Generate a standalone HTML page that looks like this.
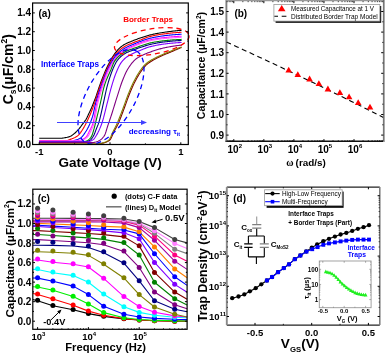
<!DOCTYPE html>
<html><head><meta charset="utf-8"><style>
html,body{margin:0;padding:0;background:#fff;}
svg{display:block;filter:blur(0.3px);}
text{font-family:"Liberation Sans", sans-serif;}
</style></head><body>
<svg width="385" height="355" viewBox="0 0 385 355" font-family='"Liberation Sans", sans-serif'>
<rect width="385" height="355" fill="#fff"/>
<path d="M39.2,138.3 L40,138.3 L40.79,138.3 L41.59,138.3 L42.38,138.3 L43.18,138.3 L43.97,138.3 L44.77,138.3 L45.56,138.3 L46.36,138.3 L47.16,138.3 L47.95,138.3 L48.75,138.3 L49.54,138.3 L50.34,138.3 L51.13,138.3 L51.93,138.3 L52.72,138.3 L53.52,138.3 L54.32,138.3 L55.11,138.3 L55.91,138.3 L56.7,138.3 L57.5,138.3 L58.29,138.3 L59.09,138.3 L59.88,138.3 L60.68,138.28 L61.47,138.23 L62.27,138.15 L63.07,138.05 L63.86,137.92 L64.66,137.78 L65.45,137.64 L66.25,137.49 L67.04,137.32 L67.84,137.12 L68.63,136.88 L69.43,136.61 L70.23,136.3 L71.02,135.93 L71.82,135.46 L72.61,134.9 L73.41,134.29 L74.2,133.65 L75,132.99 L75.79,132.26 L76.59,131.47 L77.39,130.64 L78.18,129.76 L78.98,128.86 L79.77,127.87 L80.57,126.83 L81.36,125.75 L82.16,124.67 L82.95,123.62 L83.75,122.6 L84.55,121.56 L85.34,120.43 L86.14,119.17 L86.93,117.7 L87.73,116.07 L88.52,114.35 L89.32,112.64 L90.11,110.92 L90.91,109.17 L91.71,107.37 L92.5,105.5 L93.3,103.56 L94.09,101.54 L94.89,99.46 L95.68,97.32 L96.48,95.12 L97.27,92.8 L98.07,90.39 L98.86,87.99 L99.66,85.67 L100.46,83.47 L101.25,81.31 L102.05,79.19 L102.84,77.11 L103.64,75.09 L104.43,73.13 L105.23,71.25 L106.02,69.46 L106.82,67.73 L107.62,66.07 L108.41,64.46 L109.21,62.92 L110,61.43 L110.8,60 L111.59,58.61 L112.39,57.26 L113.18,55.97 L113.98,54.75 L114.78,53.62 L115.57,52.57 L116.37,51.56 L117.16,50.6 L117.96,49.7 L118.75,48.85 L119.55,48.08 L120.34,47.39 L121.14,46.75 L121.94,46.15 L122.73,45.59 L123.53,45.07 L124.32,44.58 L125.12,44.14 L125.91,43.72 L126.71,43.33 L127.5,42.97 L128.3,42.62 L129.09,42.28 L129.89,41.96 L130.69,41.64 L131.48,41.32 L132.28,41 L133.07,40.68 L133.87,40.36 L134.66,40.05 L135.46,39.74 L136.25,39.44 L137.05,39.14 L137.85,38.85 L138.64,38.57 L139.44,38.29 L140.23,38.01 L141.03,37.74 L141.82,37.47 L142.62,37.2 L143.41,36.93 L144.21,36.67 L145.01,36.41 L145.8,36.16 L146.6,35.91 L147.39,35.68 L148.19,35.46 L148.98,35.24 L149.78,35.04 L150.57,34.85 L151.37,34.67 L152.17,34.49 L152.96,34.32 L153.76,34.15 L154.55,33.98 L155.35,33.82 L156.14,33.66 L156.94,33.51 L157.73,33.36 L158.53,33.21 L159.33,33.07 L160.12,32.93 L160.92,32.8 L161.71,32.67 L162.51,32.54 L163.3,32.42 L164.1,32.3 L164.89,32.19 L165.69,32.07 L166.48,31.96 L167.28,31.85 L168.08,31.74 L168.87,31.64 L169.67,31.54 L170.46,31.43 L171.26,31.33 L172.05,31.24 L172.85,31.14 L173.64,31.05 L174.44,30.96 L175.24,30.87 L176.03,30.79 L176.83,30.71 L177.62,30.63 L178.42,30.55 L179.21,30.48 L180.01,30.42 L180.8,30.35 L181.6,30.29" fill="none" stroke="#000000" stroke-width="1.1"/>
<path d="M39.2,140.55 L40,140.55 L40.79,140.55 L41.59,140.55 L42.38,140.55 L43.18,140.55 L43.97,140.55 L44.77,140.55 L45.56,140.55 L46.36,140.55 L47.16,140.55 L47.95,140.55 L48.75,140.55 L49.54,140.55 L50.34,140.55 L51.13,140.55 L51.93,140.55 L52.72,140.55 L53.52,140.55 L54.32,140.55 L55.11,140.55 L55.91,140.55 L56.7,140.55 L57.5,140.55 L58.29,140.55 L59.09,140.55 L59.88,140.55 L60.68,140.55 L61.47,140.55 L62.27,140.55 L63.07,140.55 L63.86,140.55 L64.66,140.55 L65.45,140.55 L66.25,140.55 L67.04,140.44 L67.84,140.24 L68.63,139.97 L69.43,139.68 L70.23,139.39 L71.02,139.12 L71.82,138.84 L72.61,138.54 L73.41,138.22 L74.2,137.87 L75,137.48 L75.79,137.06 L76.59,136.58 L77.39,136.02 L78.18,135.38 L78.98,134.64 L79.77,133.7 L80.57,132.6 L81.36,131.43 L82.16,130.24 L82.95,128.98 L83.75,127.64 L84.55,126.25 L85.34,124.79 L86.14,123.25 L86.93,121.65 L87.73,119.98 L88.52,118.27 L89.32,116.5 L90.11,114.67 L90.91,112.78 L91.71,110.82 L92.5,108.79 L93.3,106.67 L94.09,104.48 L94.89,102.17 L95.68,99.74 L96.48,97.25 L97.27,94.72 L98.07,92.21 L98.86,89.74 L99.66,87.37 L100.46,85.12 L101.25,82.98 L102.05,80.89 L102.84,78.85 L103.64,76.86 L104.43,74.93 L105.23,73.06 L106.02,71.24 L106.82,69.48 L107.62,67.76 L108.41,66.09 L109.21,64.47 L110,62.91 L110.8,61.42 L111.59,60.01 L112.39,58.63 L113.18,57.3 L113.98,56.07 L114.78,55 L115.57,54.08 L116.37,53.22 L117.16,52.4 L117.96,51.61 L118.75,50.87 L119.55,50.16 L120.34,49.49 L121.14,48.86 L121.94,48.26 L122.73,47.69 L123.53,47.16 L124.32,46.67 L125.12,46.2 L125.91,45.77 L126.71,45.38 L127.5,45.01 L128.3,44.66 L129.09,44.33 L129.89,44.01 L130.69,43.7 L131.48,43.39 L132.28,43.07 L133.07,42.75 L133.87,42.44 L134.66,42.13 L135.46,41.83 L136.25,41.54 L137.05,41.24 L137.85,40.95 L138.64,40.66 L139.44,40.37 L140.23,40.07 L141.03,39.77 L141.82,39.45 L142.62,39.13 L143.41,38.81 L144.21,38.49 L145.01,38.17 L145.8,37.86 L146.6,37.56 L147.39,37.28 L148.19,37.01 L148.98,36.77 L149.78,36.55 L150.57,36.35 L151.37,36.16 L152.17,35.98 L152.96,35.8 L153.76,35.63 L154.55,35.46 L155.35,35.3 L156.14,35.15 L156.94,35 L157.73,34.85 L158.53,34.71 L159.33,34.58 L160.12,34.45 L160.92,34.33 L161.71,34.21 L162.51,34.09 L163.3,33.98 L164.1,33.88 L164.89,33.78 L165.69,33.68 L166.48,33.59 L167.28,33.5 L168.08,33.4 L168.87,33.31 L169.67,33.23 L170.46,33.14 L171.26,33.06 L172.05,32.97 L172.85,32.9 L173.64,32.82 L174.44,32.75 L175.24,32.68 L176.03,32.61 L176.83,32.55 L177.62,32.49 L178.42,32.44 L179.21,32.39 L180.01,32.34 L180.8,32.3 L181.6,32.26" fill="none" stroke="#ff0000" stroke-width="1.1"/>
<path d="M39.2,141.68 L40,141.68 L40.79,141.68 L41.59,141.68 L42.38,141.68 L43.18,141.68 L43.97,141.68 L44.77,141.68 L45.56,141.68 L46.36,141.68 L47.16,141.68 L47.95,141.68 L48.75,141.68 L49.54,141.68 L50.34,141.68 L51.13,141.68 L51.93,141.68 L52.72,141.68 L53.52,141.68 L54.32,141.68 L55.11,141.68 L55.91,141.68 L56.7,141.68 L57.5,141.68 L58.29,141.68 L59.09,141.68 L59.88,141.68 L60.68,141.68 L61.47,141.68 L62.27,141.68 L63.07,141.68 L63.86,141.68 L64.66,141.68 L65.45,141.68 L66.25,141.68 L67.04,141.68 L67.84,141.68 L68.63,141.68 L69.43,141.68 L70.23,141.68 L71.02,141.59 L71.82,141.42 L72.61,141.19 L73.41,140.91 L74.2,140.6 L75,140.3 L75.79,140.02 L76.59,139.74 L77.39,139.46 L78.18,139.16 L78.98,138.82 L79.77,138.43 L80.57,137.97 L81.36,137.4 L82.16,136.6 L82.95,135.64 L83.75,134.57 L84.55,133.44 L85.34,132.3 L86.14,131.04 L86.93,129.67 L87.73,128.2 L88.52,126.64 L89.32,124.96 L90.11,123.15 L90.91,121.19 L91.71,119.06 L92.5,116.65 L93.3,113.86 L94.09,110.21 L94.89,106.34 L95.68,103.18 L96.48,100.32 L97.27,97.62 L98.07,95.07 L98.86,92.63 L99.66,90.28 L100.46,87.98 L101.25,85.71 L102.05,83.44 L102.84,81.2 L103.64,79 L104.43,76.87 L105.23,74.81 L106.02,72.85 L106.82,71.01 L107.62,69.29 L108.41,67.69 L109.21,66.17 L110,64.73 L110.8,63.34 L111.59,61.99 L112.39,60.67 L113.18,59.35 L113.98,58.04 L114.78,56.89 L115.57,55.96 L116.37,55.09 L117.16,54.27 L117.96,53.48 L118.75,52.75 L119.55,52.04 L120.34,51.38 L121.14,50.75 L121.94,50.16 L122.73,49.6 L123.53,49.06 L124.32,48.56 L125.12,48.08 L125.91,47.63 L126.71,47.22 L127.5,46.83 L128.3,46.47 L129.09,46.12 L129.89,45.78 L130.69,45.44 L131.48,45.11 L132.28,44.77 L133.07,44.42 L133.87,44.08 L134.66,43.73 L135.46,43.39 L136.25,43.05 L137.05,42.72 L137.85,42.4 L138.64,42.09 L139.44,41.78 L140.23,41.48 L141.03,41.19 L141.82,40.9 L142.62,40.6 L143.41,40.31 L144.21,40.03 L145.01,39.75 L145.8,39.49 L146.6,39.23 L147.39,38.98 L148.19,38.75 L148.98,38.53 L149.78,38.33 L150.57,38.15 L151.37,37.97 L152.17,37.79 L152.96,37.62 L153.76,37.46 L154.55,37.29 L155.35,37.14 L156.14,36.99 L156.94,36.84 L157.73,36.7 L158.53,36.56 L159.33,36.43 L160.12,36.31 L160.92,36.19 L161.71,36.07 L162.51,35.96 L163.3,35.86 L164.1,35.76 L164.89,35.66 L165.69,35.57 L166.48,35.48 L167.28,35.39 L168.08,35.3 L168.87,35.22 L169.67,35.13 L170.46,35.05 L171.26,34.97 L172.05,34.9 L172.85,34.82 L173.64,34.75 L174.44,34.68 L175.24,34.62 L176.03,34.56 L176.83,34.5 L177.62,34.44 L178.42,34.39 L179.21,34.35 L180.01,34.31 L180.8,34.27 L181.6,34.24" fill="none" stroke="#0000ff" stroke-width="1.1"/>
<path d="M39.2,140.74 L40,140.74 L40.79,140.74 L41.59,140.74 L42.38,140.74 L43.18,140.74 L43.97,140.74 L44.77,140.74 L45.56,140.74 L46.36,140.74 L47.16,140.74 L47.95,140.74 L48.75,140.74 L49.54,140.74 L50.34,140.74 L51.13,140.74 L51.93,140.74 L52.72,140.74 L53.52,140.74 L54.32,140.74 L55.11,140.74 L55.91,140.74 L56.7,140.74 L57.5,140.74 L58.29,140.74 L59.09,140.74 L59.88,140.74 L60.68,140.74 L61.47,140.74 L62.27,140.74 L63.07,140.74 L63.86,140.74 L64.66,140.74 L65.45,140.74 L66.25,140.74 L67.04,140.74 L67.84,140.74 L68.63,140.74 L69.43,140.74 L70.23,140.74 L71.02,140.74 L71.82,140.74 L72.61,140.74 L73.41,140.74 L74.2,140.74 L75,140.74 L75.79,140.72 L76.59,140.68 L77.39,140.61 L78.18,140.52 L78.98,140.4 L79.77,140.27 L80.57,140.13 L81.36,139.94 L82.16,139.65 L82.95,139.26 L83.75,138.77 L84.55,138.21 L85.34,137.56 L86.14,136.85 L86.93,135.83 L87.73,134.49 L88.52,132.95 L89.32,131.34 L90.11,129.78 L90.91,128.23 L91.71,126.55 L92.5,124.58 L93.3,122.17 L94.09,118.44 L94.89,113.62 L95.68,108.71 L96.48,104.69 L97.27,101.44 L98.07,98.44 L98.86,95.64 L99.66,93.01 L100.46,90.51 L101.25,88.1 L102.05,85.74 L102.84,83.41 L103.64,81.13 L104.43,78.9 L105.23,76.75 L106.02,74.71 L106.82,72.78 L107.62,70.98 L108.41,69.33 L109.21,67.81 L110,66.38 L110.8,65.04 L111.59,63.75 L112.39,62.5 L113.18,61.26 L113.98,60.03 L114.78,58.78 L115.57,57.82 L116.37,56.93 L117.16,56.08 L117.96,55.27 L118.75,54.51 L119.55,53.78 L120.34,53.1 L121.14,52.44 L121.94,51.83 L122.73,51.24 L123.53,50.69 L124.32,50.17 L125.12,49.68 L125.91,49.22 L126.71,48.79 L127.5,48.39 L128.3,48.02 L129.09,47.66 L129.89,47.31 L130.69,46.97 L131.48,46.63 L132.28,46.28 L133.07,45.92 L133.87,45.56 L134.66,45.2 L135.46,44.84 L136.25,44.49 L137.05,44.15 L137.85,43.82 L138.64,43.5 L139.44,43.19 L140.23,42.9 L141.03,42.61 L141.82,42.33 L142.62,42.04 L143.41,41.77 L144.21,41.5 L145.01,41.24 L145.8,40.99 L146.6,40.75 L147.39,40.52 L148.19,40.31 L148.98,40.11 L149.78,39.93 L150.57,39.76 L151.37,39.59 L152.17,39.44 L152.96,39.28 L153.76,39.14 L154.55,38.99 L155.35,38.85 L156.14,38.72 L156.94,38.59 L157.73,38.47 L158.53,38.35 L159.33,38.23 L160.12,38.12 L160.92,38.01 L161.71,37.91 L162.51,37.81 L163.3,37.72 L164.1,37.63 L164.89,37.54 L165.69,37.46 L166.48,37.37 L167.28,37.29 L168.08,37.21 L168.87,37.13 L169.67,37.06 L170.46,36.98 L171.26,36.91 L172.05,36.84 L172.85,36.77 L173.64,36.7 L174.44,36.64 L175.24,36.58 L176.03,36.52 L176.83,36.47 L177.62,36.41 L178.42,36.37 L179.21,36.32 L180.01,36.28 L180.8,36.24 L181.6,36.21" fill="none" stroke="#ff00ff" stroke-width="1.1"/>
<path d="M39.2,141.12 L40,141.12 L40.79,141.12 L41.59,141.12 L42.38,141.12 L43.18,141.12 L43.97,141.12 L44.77,141.12 L45.56,141.12 L46.36,141.12 L47.16,141.12 L47.95,141.12 L48.75,141.12 L49.54,141.12 L50.34,141.12 L51.13,141.12 L51.93,141.12 L52.72,141.12 L53.52,141.12 L54.32,141.12 L55.11,141.12 L55.91,141.12 L56.7,141.12 L57.5,141.12 L58.29,141.12 L59.09,141.12 L59.88,141.12 L60.68,141.12 L61.47,141.12 L62.27,141.12 L63.07,141.12 L63.86,141.12 L64.66,141.12 L65.45,141.12 L66.25,141.12 L67.04,141.12 L67.84,141.12 L68.63,141.12 L69.43,141.12 L70.23,141.12 L71.02,141.12 L71.82,141.12 L72.61,141.12 L73.41,141.12 L74.2,141.12 L75,141.12 L75.79,141.12 L76.59,141.12 L77.39,141.11 L78.18,141.05 L78.98,140.94 L79.77,140.79 L80.57,140.61 L81.36,140.4 L82.16,140.18 L82.95,139.94 L83.75,139.61 L84.55,139.21 L85.34,138.72 L86.14,138.15 L86.93,137.5 L87.73,136.75 L88.52,135.65 L89.32,134.23 L90.11,132.62 L90.91,130.96 L91.71,129.35 L92.5,127.68 L93.3,125.8 L94.09,123.53 L94.89,120.38 L95.68,115.59 L96.48,110.25 L97.27,105.61 L98.07,102.15 L98.86,99.01 L99.66,96.11 L100.46,93.41 L101.25,90.87 L102.05,88.43 L102.84,86.06 L103.64,83.71 L104.43,81.42 L105.23,79.2 L106.02,77.06 L106.82,75.01 L107.62,73.07 L108.41,71.23 L109.21,69.52 L110,67.87 L110.8,66.27 L111.59,64.74 L112.39,63.31 L113.18,61.99 L113.98,60.81 L114.78,59.78 L115.57,58.83 L116.37,57.93 L117.16,57.08 L117.96,56.26 L118.75,55.49 L119.55,54.76 L120.34,54.06 L121.14,53.41 L121.94,52.78 L122.73,52.2 L123.53,51.64 L124.32,51.11 L125.12,50.62 L125.91,50.16 L126.71,49.73 L127.5,49.33 L128.3,48.96 L129.09,48.6 L129.89,48.25 L130.69,47.91 L131.48,47.56 L132.28,47.22 L133.07,46.86 L133.87,46.5 L134.66,46.14 L135.46,45.79 L136.25,45.44 L137.05,45.1 L137.85,44.76 L138.64,44.44 L139.44,44.13 L140.23,43.83 L141.03,43.54 L141.82,43.25 L142.62,42.96 L143.41,42.67 L144.21,42.39 L145.01,42.12 L145.8,41.86 L146.6,41.61 L147.39,41.38 L148.19,41.16 L148.98,40.95 L149.78,40.77 L150.57,40.61 L151.37,40.44 L152.17,40.29 L152.96,40.14 L153.76,39.99 L154.55,39.85 L155.35,39.72 L156.14,39.59 L156.94,39.46 L157.73,39.34 L158.53,39.23 L159.33,39.12 L160.12,39.01 L160.92,38.91 L161.71,38.82 L162.51,38.73 L163.3,38.64 L164.1,38.56 L164.89,38.48 L165.69,38.4 L166.48,38.33 L167.28,38.26 L168.08,38.19 L168.87,38.12 L169.67,38.05 L170.46,37.98 L171.26,37.92 L172.05,37.85 L172.85,37.79 L173.64,37.74 L174.44,37.68 L175.24,37.63 L176.03,37.58 L176.83,37.53 L177.62,37.49 L178.42,37.45 L179.21,37.42 L180.01,37.39 L180.8,37.36 L181.6,37.34" fill="none" stroke="#ff66ff" stroke-width="1.1"/>
<path d="M39.2,142.06 L40,142.06 L40.79,142.06 L41.59,142.06 L42.38,142.06 L43.18,142.06 L43.97,142.06 L44.77,142.06 L45.56,142.06 L46.36,142.06 L47.16,142.06 L47.95,142.06 L48.75,142.06 L49.54,142.06 L50.34,142.06 L51.13,142.06 L51.93,142.06 L52.72,142.06 L53.52,142.06 L54.32,142.06 L55.11,142.06 L55.91,142.06 L56.7,142.06 L57.5,142.06 L58.29,142.06 L59.09,142.06 L59.88,142.06 L60.68,142.06 L61.47,142.06 L62.27,142.06 L63.07,142.06 L63.86,142.06 L64.66,142.06 L65.45,142.06 L66.25,142.06 L67.04,142.06 L67.84,142.06 L68.63,142.06 L69.43,142.06 L70.23,142.06 L71.02,142.06 L71.82,142.06 L72.61,142.06 L73.41,142.06 L74.2,142.06 L75,142.06 L75.79,142.06 L76.59,142.06 L77.39,142.06 L78.18,142.06 L78.98,142.06 L79.77,142.06 L80.57,142.05 L81.36,142 L82.16,141.93 L82.95,141.82 L83.75,141.69 L84.55,141.54 L85.34,141.37 L86.14,141.17 L86.93,140.88 L87.73,140.45 L88.52,139.87 L89.32,139.16 L90.11,138.33 L90.91,137.36 L91.71,136.08 L92.5,133.96 L93.3,131.4 L94.09,128.68 L94.89,125.51 L95.68,122.27 L96.48,119.08 L97.27,115.86 L98.07,112.6 L98.86,109.32 L99.66,106.02 L100.46,102.63 L101.25,99.01 L102.05,95.33 L102.84,91.74 L103.64,88.42 L104.43,85.53 L105.23,83.11 L106.02,80.92 L106.82,78.91 L107.62,77.04 L108.41,75.26 L109.21,73.52 L110,71.77 L110.8,69.96 L111.59,68.03 L112.39,66.01 L113.18,64.05 L113.98,62.29 L114.78,60.88 L115.57,59.82 L116.37,58.85 L117.16,57.96 L117.96,57.13 L118.75,56.36 L119.55,55.64 L120.34,54.98 L121.14,54.37 L121.94,53.8 L122.73,53.26 L123.53,52.76 L124.32,52.29 L125.12,51.85 L125.91,51.43 L126.71,51.05 L127.5,50.7 L128.3,50.38 L129.09,50.07 L129.89,49.77 L130.69,49.48 L131.48,49.19 L132.28,48.89 L133.07,48.59 L133.87,48.3 L134.66,48.01 L135.46,47.73 L136.25,47.45 L137.05,47.17 L137.85,46.9 L138.64,46.63 L139.44,46.36 L140.23,46.1 L141.03,45.82 L141.82,45.55 L142.62,45.26 L143.41,44.98 L144.21,44.7 L145.01,44.43 L145.8,44.16 L146.6,43.9 L147.39,43.66 L148.19,43.43 L148.98,43.22 L149.78,43.03 L150.57,42.86 L151.37,42.69 L152.17,42.53 L152.96,42.38 L153.76,42.23 L154.55,42.08 L155.35,41.94 L156.14,41.81 L156.94,41.68 L157.73,41.55 L158.53,41.43 L159.33,41.32 L160.12,41.21 L160.92,41.1 L161.71,41 L162.51,40.9 L163.3,40.81 L164.1,40.72 L164.89,40.64 L165.69,40.56 L166.48,40.48 L167.28,40.4 L168.08,40.33 L168.87,40.25 L169.67,40.18 L170.46,40.11 L171.26,40.04 L172.05,39.97 L172.85,39.91 L173.64,39.85 L174.44,39.79 L175.24,39.73 L176.03,39.68 L176.83,39.63 L177.62,39.58 L178.42,39.54 L179.21,39.5 L180.01,39.46 L180.8,39.43 L181.6,39.41" fill="none" stroke="#008000" stroke-width="1.1"/>
<path d="M39.2,142.06 L40,142.06 L40.79,142.06 L41.59,142.06 L42.38,142.06 L43.18,142.06 L43.97,142.06 L44.77,142.06 L45.56,142.06 L46.36,142.06 L47.16,142.06 L47.95,142.06 L48.75,142.06 L49.54,142.06 L50.34,142.06 L51.13,142.06 L51.93,142.06 L52.72,142.06 L53.52,142.06 L54.32,142.06 L55.11,142.06 L55.91,142.06 L56.7,142.06 L57.5,142.06 L58.29,142.06 L59.09,142.06 L59.88,142.06 L60.68,142.06 L61.47,142.06 L62.27,142.06 L63.07,142.06 L63.86,142.06 L64.66,142.06 L65.45,142.06 L66.25,142.06 L67.04,142.06 L67.84,142.06 L68.63,142.06 L69.43,142.06 L70.23,142.06 L71.02,142.06 L71.82,142.06 L72.61,142.06 L73.41,142.06 L74.2,142.06 L75,142.06 L75.79,142.06 L76.59,142.06 L77.39,142.06 L78.18,142.06 L78.98,142.06 L79.77,142.06 L80.57,142.06 L81.36,142.06 L82.16,142.06 L82.95,142.06 L83.75,142.06 L84.55,142.04 L85.34,141.95 L86.14,141.79 L86.93,141.57 L87.73,141.29 L88.52,140.97 L89.32,140.61 L90.11,140.21 L90.91,139.57 L91.71,138.63 L92.5,137.49 L93.3,136.21 L94.09,134.69 L94.89,132.77 L95.68,130.66 L96.48,128.57 L97.27,126.65 L98.07,124.68 L98.86,122.39 L99.66,119.6 L100.46,116.37 L101.25,112.87 L102.05,109.26 L102.84,105.7 L103.64,102.18 L104.43,98.45 L105.23,94.67 L106.02,91 L106.82,87.59 L107.62,84.59 L108.41,81.86 L109.21,79.27 L110,76.82 L110.8,74.5 L111.59,72.32 L112.39,70.27 L113.18,68.36 L113.98,66.58 L114.78,64.87 L115.57,63.27 L116.37,61.82 L117.16,60.58 L117.96,59.56 L118.75,58.64 L119.55,57.79 L120.34,57.01 L121.14,56.28 L121.94,55.61 L122.73,54.99 L123.53,54.43 L124.32,53.91 L125.12,53.44 L125.91,53.01 L126.71,52.62 L127.5,52.26 L128.3,51.92 L129.09,51.6 L129.89,51.3 L130.69,51 L131.48,50.7 L132.28,50.4 L133.07,50.09 L133.87,49.78 L134.66,49.48 L135.46,49.19 L136.25,48.89 L137.05,48.61 L137.85,48.33 L138.64,48.05 L139.44,47.78 L140.23,47.51 L141.03,47.24 L141.82,46.97 L142.62,46.7 L143.41,46.43 L144.21,46.16 L145.01,45.9 L145.8,45.64 L146.6,45.4 L147.39,45.16 L148.19,44.94 L148.98,44.73 L149.78,44.54 L150.57,44.35 L151.37,44.18 L152.17,44 L152.96,43.83 L153.76,43.67 L154.55,43.51 L155.35,43.35 L156.14,43.2 L156.94,43.05 L157.73,42.9 L158.53,42.77 L159.33,42.63 L160.12,42.51 L160.92,42.38 L161.71,42.27 L162.51,42.16 L163.3,42.05 L164.1,41.96 L164.89,41.86 L165.69,41.78 L166.48,41.69 L167.28,41.61 L168.08,41.52 L168.87,41.44 L169.67,41.36 L170.46,41.28 L171.26,41.21 L172.05,41.13 L172.85,41.06 L173.64,41 L174.44,40.93 L175.24,40.87 L176.03,40.82 L176.83,40.76 L177.62,40.71 L178.42,40.67 L179.21,40.63 L180.01,40.59 L180.8,40.56 L181.6,40.54" fill="none" stroke="#000080" stroke-width="1.1"/>
<path d="M39.2,141.68 L40,141.68 L40.79,141.68 L41.59,141.68 L42.38,141.68 L43.18,141.68 L43.97,141.68 L44.77,141.68 L45.56,141.68 L46.36,141.68 L47.16,141.68 L47.95,141.68 L48.75,141.68 L49.54,141.68 L50.34,141.68 L51.13,141.68 L51.93,141.68 L52.72,141.68 L53.52,141.68 L54.32,141.68 L55.11,141.68 L55.91,141.68 L56.7,141.68 L57.5,141.68 L58.29,141.68 L59.09,141.68 L59.88,141.68 L60.68,141.68 L61.47,141.68 L62.27,141.68 L63.07,141.68 L63.86,141.68 L64.66,141.68 L65.45,141.68 L66.25,141.68 L67.04,141.68 L67.84,141.68 L68.63,141.68 L69.43,141.68 L70.23,141.68 L71.02,141.68 L71.82,141.68 L72.61,141.68 L73.41,141.68 L74.2,141.68 L75,141.68 L75.79,141.68 L76.59,141.68 L77.39,141.68 L78.18,141.68 L78.98,141.68 L79.77,141.68 L80.57,141.68 L81.36,141.68 L82.16,141.68 L82.95,141.68 L83.75,141.68 L84.55,141.68 L85.34,141.68 L86.14,141.68 L86.93,141.68 L87.73,141.68 L88.52,141.65 L89.32,141.51 L90.11,141.27 L90.91,140.94 L91.71,140.54 L92.5,140.1 L93.3,139.59 L94.09,138.79 L94.89,137.73 L95.68,136.53 L96.48,135.27 L97.27,133.89 L98.07,132.36 L98.86,130.7 L99.66,128.9 L100.46,126.98 L101.25,124.93 L102.05,122.75 L102.84,120.28 L103.64,117.42 L104.43,114.29 L105.23,111.04 L106.02,107.81 L106.82,104.73 L107.62,101.59 L108.41,98.41 L109.21,95.23 L110,92.13 L110.8,89.16 L111.59,86.37 L112.39,83.71 L113.18,81.12 L113.98,78.64 L114.78,76.3 L115.57,74.14 L116.37,72.17 L117.16,70.29 L117.96,68.49 L118.75,66.8 L119.55,65.25 L120.34,63.86 L121.14,62.67 L121.94,61.62 L122.73,60.66 L123.53,59.78 L124.32,58.99 L125.12,58.27 L125.91,57.62 L126.71,57.02 L127.5,56.48 L128.3,55.97 L129.09,55.49 L129.89,55.04 L130.69,54.62 L131.48,54.21 L132.28,53.81 L133.07,53.42 L133.87,53.04 L134.66,52.68 L135.46,52.34 L136.25,52 L137.05,51.68 L137.85,51.36 L138.64,51.04 L139.44,50.72 L140.23,50.41 L141.03,50.08 L141.82,49.75 L142.62,49.42 L143.41,49.09 L144.21,48.76 L145.01,48.44 L145.8,48.12 L146.6,47.82 L147.39,47.54 L148.19,47.27 L148.98,47.02 L149.78,46.8 L150.57,46.59 L151.37,46.4 L152.17,46.21 L152.96,46.02 L153.76,45.84 L154.55,45.67 L155.35,45.5 L156.14,45.33 L156.94,45.18 L157.73,45.03 L158.53,44.88 L159.33,44.74 L160.12,44.61 L160.92,44.48 L161.71,44.36 L162.51,44.24 L163.3,44.13 L164.1,44.03 L164.89,43.93 L165.69,43.84 L166.48,43.75 L167.28,43.66 L168.08,43.57 L168.87,43.48 L169.67,43.39 L170.46,43.31 L171.26,43.23 L172.05,43.15 L172.85,43.08 L173.64,43 L174.44,42.94 L175.24,42.87 L176.03,42.81 L176.83,42.75 L177.62,42.7 L178.42,42.65 L179.21,42.61 L180.01,42.57 L180.8,42.54 L181.6,42.51" fill="none" stroke="#8000ff" stroke-width="1.1"/>
<path d="M39.2,142.62 L40,142.62 L40.79,142.62 L41.59,142.62 L42.38,142.62 L43.18,142.62 L43.97,142.62 L44.77,142.62 L45.56,142.62 L46.36,142.62 L47.16,142.62 L47.95,142.62 L48.75,142.62 L49.54,142.62 L50.34,142.62 L51.13,142.62 L51.93,142.62 L52.72,142.62 L53.52,142.62 L54.32,142.62 L55.11,142.62 L55.91,142.62 L56.7,142.62 L57.5,142.62 L58.29,142.62 L59.09,142.62 L59.88,142.62 L60.68,142.62 L61.47,142.62 L62.27,142.62 L63.07,142.62 L63.86,142.62 L64.66,142.62 L65.45,142.62 L66.25,142.62 L67.04,142.62 L67.84,142.62 L68.63,142.62 L69.43,142.62 L70.23,142.62 L71.02,142.62 L71.82,142.62 L72.61,142.62 L73.41,142.62 L74.2,142.62 L75,142.62 L75.79,142.62 L76.59,142.62 L77.39,142.62 L78.18,142.62 L78.98,142.62 L79.77,142.62 L80.57,142.62 L81.36,142.62 L82.16,142.62 L82.95,142.62 L83.75,142.62 L84.55,142.62 L85.34,142.62 L86.14,142.62 L86.93,142.62 L87.73,142.62 L88.52,142.62 L89.32,142.62 L90.11,142.62 L90.91,142.62 L91.71,142.62 L92.5,142.61 L93.3,142.53 L94.09,142.4 L94.89,142.22 L95.68,142 L96.48,141.75 L97.27,141.47 L98.07,141.18 L98.86,140.84 L99.66,140.41 L100.46,139.89 L101.25,139.27 L102.05,138.55 L102.84,137.72 L103.64,136.77 L104.43,135.68 L105.23,133.89 L106.02,131.49 L106.82,128.83 L107.62,126.25 L108.41,123.92 L109.21,121.6 L110,119.26 L110.8,116.88 L111.59,114.46 L112.39,111.97 L113.18,109.42 L113.98,106.85 L114.78,104.27 L115.57,101.7 L116.37,99.17 L117.16,96.68 L117.96,94.16 L118.75,91.62 L119.55,89.1 L120.34,86.63 L121.14,84.27 L121.94,82.05 L122.73,80 L123.53,78.04 L124.32,76.13 L125.12,74.3 L125.91,72.57 L126.71,70.97 L127.5,69.5 L128.3,68.21 L129.09,67 L129.89,65.85 L130.69,64.75 L131.48,63.7 L132.28,62.71 L133.07,61.78 L133.87,60.92 L134.66,60.12 L135.46,59.4 L136.25,58.75 L137.05,58.17 L137.85,57.64 L138.64,57.15 L139.44,56.7 L140.23,56.27 L141.03,55.87 L141.82,55.49 L142.62,55.13 L143.41,54.77 L144.21,54.42 L145.01,54.07 L145.8,53.72 L146.6,53.39 L147.39,53.07 L148.19,52.76 L148.98,52.46 L149.78,52.17 L150.57,51.9 L151.37,51.63 L152.17,51.35 L152.96,51.08 L153.76,50.82 L154.55,50.56 L155.35,50.3 L156.14,50.04 L156.94,49.79 L157.73,49.55 L158.53,49.31 L159.33,49.08 L160.12,48.86 L160.92,48.64 L161.71,48.43 L162.51,48.24 L163.3,48.05 L164.1,47.87 L164.89,47.7 L165.69,47.54 L166.48,47.38 L167.28,47.23 L168.08,47.07 L168.87,46.92 L169.67,46.78 L170.46,46.63 L171.26,46.49 L172.05,46.36 L172.85,46.23 L173.64,46.1 L174.44,45.98 L175.24,45.86 L176.03,45.75 L176.83,45.64 L177.62,45.54 L178.42,45.45 L179.21,45.36 L180.01,45.28 L180.8,45.21 L181.6,45.14" fill="none" stroke="#800080" stroke-width="1.1"/>
<path d="M39.2,144.12 L40,144.12 L40.79,144.12 L41.59,144.12 L42.38,144.12 L43.18,144.12 L43.97,144.12 L44.77,144.12 L45.56,144.12 L46.36,144.12 L47.16,144.12 L47.95,144.12 L48.75,144.12 L49.54,144.12 L50.34,144.12 L51.13,144.12 L51.93,144.12 L52.72,144.12 L53.52,144.12 L54.32,144.12 L55.11,144.12 L55.91,144.12 L56.7,144.12 L57.5,144.12 L58.29,144.12 L59.09,144.12 L59.88,144.12 L60.68,144.12 L61.47,144.12 L62.27,144.12 L63.07,144.12 L63.86,144.12 L64.66,144.12 L65.45,144.12 L66.25,144.12 L67.04,144.12 L67.84,144.12 L68.63,144.12 L69.43,144.12 L70.23,144.12 L71.02,144.12 L71.82,144.12 L72.61,144.12 L73.41,144.12 L74.2,144.12 L75,144.12 L75.79,144.12 L76.59,144.12 L77.39,144.12 L78.18,144.12 L78.98,144.12 L79.77,144.12 L80.57,144.12 L81.36,144.12 L82.16,144.12 L82.95,144.12 L83.75,144.12 L84.55,144.12 L85.34,144.12 L86.14,144.12 L86.93,144.12 L87.73,144.12 L88.52,144.12 L89.32,144.12 L90.11,144.12 L90.91,144.12 L91.71,144.12 L92.5,144.12 L93.3,144.12 L94.09,144.12 L94.89,144.12 L95.68,144.12 L96.48,144.12 L97.27,144.12 L98.07,144.08 L98.86,143.98 L99.66,143.86 L100.46,143.7 L101.25,143.52 L102.05,143.33 L102.84,143.13 L103.64,142.93 L104.43,142.7 L105.23,142.45 L106.02,142.16 L106.82,141.83 L107.62,141.44 L108.41,140.99 L109.21,140.48 L110,139.79 L110.8,138.62 L111.59,137.07 L112.39,135.3 L113.18,133.45 L113.98,131.66 L114.78,130.07 L115.57,128.64 L116.37,127.23 L117.16,125.76 L117.96,124.17 L118.75,122.41 L119.55,120.51 L120.34,118.51 L121.14,116.45 L121.94,114.34 L122.73,112.22 L123.53,110.12 L124.32,107.99 L125.12,105.8 L125.91,103.56 L126.71,101.33 L127.5,99.12 L128.3,96.98 L129.09,94.94 L129.89,92.98 L130.69,91.06 L131.48,89.18 L132.28,87.35 L133.07,85.58 L133.87,83.88 L134.66,82.26 L135.46,80.71 L136.25,79.21 L137.05,77.77 L137.85,76.37 L138.64,75.04 L139.44,73.76 L140.23,72.55 L141.03,71.4 L141.82,70.28 L142.62,69.19 L143.41,68.16 L144.21,67.18 L145.01,66.27 L145.8,65.45 L146.6,64.71 L147.39,64.02 L148.19,63.38 L148.98,62.78 L149.78,62.21 L150.57,61.68 L151.37,61.17 L152.17,60.68 L152.96,60.21 L153.76,59.76 L154.55,59.32 L155.35,58.9 L156.14,58.49 L156.94,58.09 L157.73,57.69 L158.53,57.31 L159.33,56.93 L160.12,56.55 L160.92,56.18 L161.71,55.81 L162.51,55.45 L163.3,55.1 L164.1,54.76 L164.89,54.43 L165.69,54.1 L166.48,53.77 L167.28,53.45 L168.08,53.12 L168.87,52.8 L169.67,52.47 L170.46,52.14 L171.26,51.8 L172.05,51.46 L172.85,51.12 L173.64,50.79 L174.44,50.45 L175.24,50.11 L176.03,49.77 L176.83,49.43 L177.62,49.09 L178.42,48.76 L179.21,48.42 L180.01,48.08 L180.8,47.74 L181.6,47.4" fill="none" stroke="#800000" stroke-width="1.1"/>
<path d="M39.2,143.94 L40,143.94 L40.79,143.94 L41.59,143.94 L42.38,143.94 L43.18,143.94 L43.97,143.94 L44.77,143.94 L45.56,143.94 L46.36,143.94 L47.16,143.94 L47.95,143.94 L48.75,143.94 L49.54,143.94 L50.34,143.94 L51.13,143.94 L51.93,143.94 L52.72,143.94 L53.52,143.94 L54.32,143.94 L55.11,143.94 L55.91,143.94 L56.7,143.94 L57.5,143.94 L58.29,143.94 L59.09,143.94 L59.88,143.94 L60.68,143.94 L61.47,143.94 L62.27,143.94 L63.07,143.94 L63.86,143.94 L64.66,143.94 L65.45,143.94 L66.25,143.94 L67.04,143.94 L67.84,143.94 L68.63,143.94 L69.43,143.94 L70.23,143.94 L71.02,143.94 L71.82,143.94 L72.61,143.94 L73.41,143.94 L74.2,143.94 L75,143.94 L75.79,143.94 L76.59,143.94 L77.39,143.94 L78.18,143.94 L78.98,143.94 L79.77,143.94 L80.57,143.94 L81.36,143.94 L82.16,143.94 L82.95,143.94 L83.75,143.94 L84.55,143.94 L85.34,143.94 L86.14,143.94 L86.93,143.94 L87.73,143.94 L88.52,143.94 L89.32,143.94 L90.11,143.94 L90.91,143.94 L91.71,143.94 L92.5,143.94 L93.3,143.94 L94.09,143.94 L94.89,143.94 L95.68,143.94 L96.48,143.93 L97.27,143.88 L98.07,143.8 L98.86,143.69 L99.66,143.56 L100.46,143.41 L101.25,143.25 L102.05,143.08 L102.84,142.89 L103.64,142.67 L104.43,142.41 L105.23,142.11 L106.02,141.75 L106.82,141.34 L107.62,140.87 L108.41,140.33 L109.21,139.54 L110,138.27 L110.8,136.67 L111.59,134.87 L112.39,133.02 L113.18,131.25 L113.98,129.67 L114.78,128.16 L115.57,126.63 L116.37,125.05 L117.16,123.33 L117.96,121.5 L118.75,119.56 L119.55,117.55 L120.34,115.49 L121.14,113.4 L121.94,111.3 L122.73,109.21 L123.53,107.06 L124.32,104.85 L125.12,102.61 L125.91,100.38 L126.71,98.19 L127.5,96.07 L128.3,94.06 L129.09,92.11 L129.89,90.2 L130.69,88.33 L131.48,86.52 L132.28,84.77 L133.07,83.08 L133.87,81.48 L134.66,79.94 L135.46,78.44 L136.25,76.99 L137.05,75.6 L137.85,74.26 L138.64,72.99 L139.44,71.78 L140.23,70.62 L141.03,69.49 L141.82,68.4 L142.62,67.36 L143.41,66.39 L144.21,65.5 L145.01,64.69 L145.8,63.96 L146.6,63.28 L147.39,62.65 L148.19,62.06 L148.98,61.5 L149.78,60.98 L150.57,60.48 L151.37,60.01 L152.17,59.55 L152.96,59.11 L153.76,58.68 L154.55,58.27 L155.35,57.87 L156.14,57.48 L156.94,57.1 L157.73,56.73 L158.53,56.35 L159.33,55.98 L160.12,55.61 L160.92,55.25 L161.71,54.89 L162.51,54.54 L163.3,54.2 L164.1,53.86 L164.89,53.52 L165.69,53.19 L166.48,52.87 L167.28,52.54 L168.08,52.22 L168.87,51.9 L169.67,51.58 L170.46,51.25 L171.26,50.93 L172.05,50.61 L172.85,50.3 L173.64,49.98 L174.44,49.67 L175.24,49.35 L176.03,49.04 L176.83,48.74 L177.62,48.43 L178.42,48.12 L179.21,47.82 L180.01,47.52 L180.8,47.22 L181.6,46.93" fill="none" stroke="#808000" stroke-width="1.1"/>
<ellipse cx="151.8" cy="41.6" rx="37.8" ry="12.7" transform="rotate(-9.6 151.8 41.6)" fill="none" stroke="#ff0000" stroke-width="1.3" stroke-dasharray="5,4"/>
<ellipse cx="111" cy="96.8" rx="52.4" ry="24.1" transform="rotate(-61 111 96.8)" fill="none" stroke="#0000ff" stroke-width="1.3" stroke-dasharray="5,4"/>
<line x1="57" y1="122.5" x2="143" y2="122.5" stroke="#4040ff" stroke-width="1.1"/>
<path d="M147,122.5 L141,120 L141,125 Z" fill="#4040ff"/>
<text x="123.2" y="21.5" font-size="8" font-weight="bold" text-anchor="start" fill="#ff0000" >Border Traps</text>
<text x="40.9" y="66.9" font-size="8.2" font-weight="bold" text-anchor="start" fill="#0000ff" >Interface Traps</text>
<text x="128.7" y="134.3" font-size="8" font-weight="bold" text-anchor="start" fill="#0000ff" >decreasing τ<tspan font-size="5.5" dy="1.5">it</tspan></text>
<rect x="32.6" y="3.0" width="155.70000000000002" height="141.5" fill="none" stroke="#000" stroke-width="1.2"/>
<line x1="32.6" y1="144.5" x2="34.800000000000004" y2="144.5" stroke="#000" stroke-width="1"/>
<line x1="188.3" y1="144.5" x2="186.10000000000002" y2="144.5" stroke="#000" stroke-width="1"/>
<text x="31.1" y="148" font-size="10" font-weight="bold" text-anchor="end" fill="#000" >0.0</text>
<line x1="32.6" y1="135.1" x2="33.800000000000004" y2="135.1" stroke="#000" stroke-width="0.8"/>
<line x1="188.3" y1="135.1" x2="187.10000000000002" y2="135.1" stroke="#000" stroke-width="0.8"/>
<line x1="32.6" y1="125.7" x2="34.800000000000004" y2="125.7" stroke="#000" stroke-width="1"/>
<line x1="188.3" y1="125.7" x2="186.10000000000002" y2="125.7" stroke="#000" stroke-width="1"/>
<text x="31.1" y="129.2" font-size="10" font-weight="bold" text-anchor="end" fill="#000" >0.2</text>
<line x1="32.6" y1="116.3" x2="33.800000000000004" y2="116.3" stroke="#000" stroke-width="0.8"/>
<line x1="188.3" y1="116.3" x2="187.10000000000002" y2="116.3" stroke="#000" stroke-width="0.8"/>
<line x1="32.6" y1="106.9" x2="34.800000000000004" y2="106.9" stroke="#000" stroke-width="1"/>
<line x1="188.3" y1="106.9" x2="186.10000000000002" y2="106.9" stroke="#000" stroke-width="1"/>
<text x="31.1" y="110.4" font-size="10" font-weight="bold" text-anchor="end" fill="#000" >0.4</text>
<line x1="32.6" y1="97.5" x2="33.800000000000004" y2="97.5" stroke="#000" stroke-width="0.8"/>
<line x1="188.3" y1="97.5" x2="187.10000000000002" y2="97.5" stroke="#000" stroke-width="0.8"/>
<line x1="32.6" y1="88.1" x2="34.800000000000004" y2="88.1" stroke="#000" stroke-width="1"/>
<line x1="188.3" y1="88.1" x2="186.10000000000002" y2="88.1" stroke="#000" stroke-width="1"/>
<text x="31.1" y="91.6" font-size="10" font-weight="bold" text-anchor="end" fill="#000" >0.6</text>
<line x1="32.6" y1="78.7" x2="33.800000000000004" y2="78.7" stroke="#000" stroke-width="0.8"/>
<line x1="188.3" y1="78.7" x2="187.10000000000002" y2="78.7" stroke="#000" stroke-width="0.8"/>
<line x1="32.6" y1="69.3" x2="34.800000000000004" y2="69.3" stroke="#000" stroke-width="1"/>
<line x1="188.3" y1="69.3" x2="186.10000000000002" y2="69.3" stroke="#000" stroke-width="1"/>
<text x="31.1" y="72.8" font-size="10" font-weight="bold" text-anchor="end" fill="#000" >0.8</text>
<line x1="32.6" y1="59.9" x2="33.800000000000004" y2="59.9" stroke="#000" stroke-width="0.8"/>
<line x1="188.3" y1="59.9" x2="187.10000000000002" y2="59.9" stroke="#000" stroke-width="0.8"/>
<line x1="32.6" y1="50.5" x2="34.800000000000004" y2="50.5" stroke="#000" stroke-width="1"/>
<line x1="188.3" y1="50.5" x2="186.10000000000002" y2="50.5" stroke="#000" stroke-width="1"/>
<text x="31.1" y="54" font-size="10" font-weight="bold" text-anchor="end" fill="#000" >1.0</text>
<line x1="32.6" y1="41.1" x2="33.800000000000004" y2="41.1" stroke="#000" stroke-width="0.8"/>
<line x1="188.3" y1="41.1" x2="187.10000000000002" y2="41.1" stroke="#000" stroke-width="0.8"/>
<line x1="32.6" y1="31.7" x2="34.800000000000004" y2="31.7" stroke="#000" stroke-width="1"/>
<line x1="188.3" y1="31.7" x2="186.10000000000002" y2="31.7" stroke="#000" stroke-width="1"/>
<text x="31.1" y="35.2" font-size="10" font-weight="bold" text-anchor="end" fill="#000" >1.2</text>
<line x1="32.6" y1="22.3" x2="33.800000000000004" y2="22.3" stroke="#000" stroke-width="0.8"/>
<line x1="188.3" y1="22.3" x2="187.10000000000002" y2="22.3" stroke="#000" stroke-width="0.8"/>
<line x1="32.6" y1="12.9" x2="34.800000000000004" y2="12.9" stroke="#000" stroke-width="1"/>
<line x1="188.3" y1="12.9" x2="186.10000000000002" y2="12.9" stroke="#000" stroke-width="1"/>
<text x="31.1" y="16.4" font-size="10" font-weight="bold" text-anchor="end" fill="#000" >1.4</text>
<line x1="39.2" y1="144.5" x2="39.2" y2="142.3" stroke="#000" stroke-width="1"/>
<text x="39.2" y="154.8" font-size="9.5" font-weight="bold" text-anchor="middle" fill="#000" >-1</text>
<line x1="110" y1="144.5" x2="110" y2="142.3" stroke="#000" stroke-width="1"/>
<text x="110" y="154.8" font-size="9.5" font-weight="bold" text-anchor="middle" fill="#000" >0</text>
<line x1="180.8" y1="144.5" x2="180.8" y2="142.3" stroke="#000" stroke-width="1"/>
<text x="180.8" y="154.8" font-size="9.5" font-weight="bold" text-anchor="middle" fill="#000" >1</text>
<line x1="74.6" y1="144.5" x2="74.6" y2="143.2" stroke="#000" stroke-width="0.8"/>
<line x1="145.4" y1="144.5" x2="145.4" y2="143.2" stroke="#000" stroke-width="0.8"/>
<text x="38.5" y="17.3" font-size="10" font-weight="bold" text-anchor="start" fill="#000" >(a)</text>
<text x="110.1" y="167.3" font-size="13.5" font-weight="bold" text-anchor="middle" fill="#000" >Gate Voltage (V)</text>
<text transform="translate(13.3,104.3) rotate(-90)" font-size="14" font-weight="bold" text-anchor="start">C<tspan font-size="8.5" dy="2.5">s</tspan><tspan dy="-2.5">(μF/cm</tspan><tspan font-size="8.5" dy="-6">2</tspan><tspan dy="6">)</tspan></text>
<path d="M226.4,42 L231.81,44.46 L237.23,46.93 L242.64,49.41 L248.06,51.9 L253.47,54.4 L258.88,56.91 L264.3,59.43 L269.71,61.96 L275.12,64.5 L280.54,67.05 L285.95,69.62 L291.37,72.19 L296.78,74.77 L302.19,77.36 L307.61,79.97 L313.02,82.58 L318.43,85.21 L323.85,87.84 L329.26,90.49 L334.68,93.14 L340.09,95.81 L345.5,98.48 L350.92,101.17 L356.33,103.86 L361.74,106.57 L367.16,109.29 L372.57,112.01 L377.99,114.75 L383.4,117.5" fill="none" stroke="#000" stroke-width="1.1" stroke-dasharray="5,3.5"/>
<path d="M288.7,66.8 L292,72.6 L285.4,72.6 Z" fill="#ff0000"/>
<path d="M297.8,71.2 L301.1,77 L294.5,77 Z" fill="#ff0000"/>
<path d="M309.6,75.6 L312.9,81.4 L306.3,81.4 Z" fill="#ff0000"/>
<path d="M318.9,80.3 L322.2,86.1 L315.6,86.1 Z" fill="#ff0000"/>
<path d="M327.9,85.6 L331.2,91.4 L324.6,91.4 Z" fill="#ff0000"/>
<path d="M339.9,89.2 L343.2,95 L336.6,95 Z" fill="#ff0000"/>
<path d="M349.1,93.5 L352.4,99.3 L345.8,99.3 Z" fill="#ff0000"/>
<path d="M358.2,99.2 L361.5,105 L354.9,105 Z" fill="#ff0000"/>
<path d="M370,103.8 L373.3,109.6 L366.7,109.6 Z" fill="#ff0000"/>
<line x1="225.4" y1="141.3" x2="383.4" y2="141.3" stroke="#111" stroke-width="1.4"/>
<line x1="226.4" y1="0" x2="226.4" y2="141.3" stroke="#808080" stroke-width="1.9"/>
<line x1="226.4" y1="0.6" x2="385" y2="0.6" stroke="#999" stroke-width="1.3"/>
<line x1="384.2" y1="0" x2="384.2" y2="142.0" stroke="#aaa" stroke-width="1.6"/>
<line x1="383.4" y1="0" x2="383.4" y2="141.3" stroke="#555" stroke-width="0.8"/>
<line x1="226.4" y1="135.1" x2="228.6" y2="135.1" stroke="#000" stroke-width="1"/>
<line x1="383.4" y1="135.1" x2="381.2" y2="135.1" stroke="#000" stroke-width="1"/>
<text x="224.1" y="138.7" font-size="10" font-weight="bold" text-anchor="end" fill="#000" >0.9</text>
<line x1="226.4" y1="124.8" x2="227.6" y2="124.8" stroke="#000" stroke-width="0.8"/>
<line x1="383.4" y1="124.8" x2="382.2" y2="124.8" stroke="#000" stroke-width="0.8"/>
<line x1="226.4" y1="114.5" x2="228.6" y2="114.5" stroke="#000" stroke-width="1"/>
<line x1="383.4" y1="114.5" x2="381.2" y2="114.5" stroke="#000" stroke-width="1"/>
<text x="224.1" y="118.1" font-size="10" font-weight="bold" text-anchor="end" fill="#000" >1.0</text>
<line x1="226.4" y1="104.2" x2="227.6" y2="104.2" stroke="#000" stroke-width="0.8"/>
<line x1="383.4" y1="104.2" x2="382.2" y2="104.2" stroke="#000" stroke-width="0.8"/>
<line x1="226.4" y1="93.9" x2="228.6" y2="93.9" stroke="#000" stroke-width="1"/>
<line x1="383.4" y1="93.9" x2="381.2" y2="93.9" stroke="#000" stroke-width="1"/>
<text x="224.1" y="97.5" font-size="10" font-weight="bold" text-anchor="end" fill="#000" >1.1</text>
<line x1="226.4" y1="83.6" x2="227.6" y2="83.6" stroke="#000" stroke-width="0.8"/>
<line x1="383.4" y1="83.6" x2="382.2" y2="83.6" stroke="#000" stroke-width="0.8"/>
<line x1="226.4" y1="73.3" x2="228.6" y2="73.3" stroke="#000" stroke-width="1"/>
<line x1="383.4" y1="73.3" x2="381.2" y2="73.3" stroke="#000" stroke-width="1"/>
<text x="224.1" y="76.9" font-size="10" font-weight="bold" text-anchor="end" fill="#000" >1.2</text>
<line x1="226.4" y1="63" x2="227.6" y2="63" stroke="#000" stroke-width="0.8"/>
<line x1="383.4" y1="63" x2="382.2" y2="63" stroke="#000" stroke-width="0.8"/>
<line x1="226.4" y1="52.7" x2="228.6" y2="52.7" stroke="#000" stroke-width="1"/>
<line x1="383.4" y1="52.7" x2="381.2" y2="52.7" stroke="#000" stroke-width="1"/>
<text x="224.1" y="56.3" font-size="10" font-weight="bold" text-anchor="end" fill="#000" >1.3</text>
<line x1="226.4" y1="42.4" x2="227.6" y2="42.4" stroke="#000" stroke-width="0.8"/>
<line x1="383.4" y1="42.4" x2="382.2" y2="42.4" stroke="#000" stroke-width="0.8"/>
<line x1="226.4" y1="32.1" x2="228.6" y2="32.1" stroke="#000" stroke-width="1"/>
<line x1="383.4" y1="32.1" x2="381.2" y2="32.1" stroke="#000" stroke-width="1"/>
<text x="224.1" y="35.7" font-size="10" font-weight="bold" text-anchor="end" fill="#000" >1.4</text>
<line x1="226.4" y1="21.8" x2="227.6" y2="21.8" stroke="#000" stroke-width="0.8"/>
<line x1="383.4" y1="21.8" x2="382.2" y2="21.8" stroke="#000" stroke-width="0.8"/>
<line x1="226.4" y1="11.5" x2="228.6" y2="11.5" stroke="#000" stroke-width="1"/>
<line x1="383.4" y1="11.5" x2="381.2" y2="11.5" stroke="#000" stroke-width="1"/>
<text x="224.1" y="15.1" font-size="10" font-weight="bold" text-anchor="end" fill="#000" >1.5</text>
<line x1="227.13" y1="141.3" x2="227.13" y2="140.1" stroke="#000" stroke-width="0.7"/>
<line x1="227.13" y1="1.0" x2="227.13" y2="2.2" stroke="#000" stroke-width="0.7"/>
<line x1="229.15" y1="141.3" x2="229.15" y2="140.1" stroke="#000" stroke-width="0.7"/>
<line x1="229.15" y1="1.0" x2="229.15" y2="2.2" stroke="#000" stroke-width="0.7"/>
<line x1="230.89" y1="141.3" x2="230.89" y2="140.1" stroke="#000" stroke-width="0.7"/>
<line x1="230.89" y1="1.0" x2="230.89" y2="2.2" stroke="#000" stroke-width="0.7"/>
<line x1="232.42" y1="141.3" x2="232.42" y2="140.1" stroke="#000" stroke-width="0.7"/>
<line x1="232.42" y1="1.0" x2="232.42" y2="2.2" stroke="#000" stroke-width="0.7"/>
<line x1="233.8" y1="141.3" x2="233.8" y2="139.1" stroke="#000" stroke-width="1"/>
<line x1="233.8" y1="1.0" x2="233.8" y2="3.2" stroke="#000" stroke-width="1"/>
<line x1="242.85" y1="141.3" x2="242.85" y2="140.1" stroke="#000" stroke-width="0.7"/>
<line x1="242.85" y1="1.0" x2="242.85" y2="2.2" stroke="#000" stroke-width="0.7"/>
<line x1="248.14" y1="141.3" x2="248.14" y2="140.1" stroke="#000" stroke-width="0.7"/>
<line x1="248.14" y1="1.0" x2="248.14" y2="2.2" stroke="#000" stroke-width="0.7"/>
<line x1="251.89" y1="141.3" x2="251.89" y2="140.1" stroke="#000" stroke-width="0.7"/>
<line x1="251.89" y1="1.0" x2="251.89" y2="2.2" stroke="#000" stroke-width="0.7"/>
<line x1="254.8" y1="141.3" x2="254.8" y2="140.1" stroke="#000" stroke-width="0.7"/>
<line x1="254.8" y1="1.0" x2="254.8" y2="2.2" stroke="#000" stroke-width="0.7"/>
<line x1="257.18" y1="141.3" x2="257.18" y2="140.1" stroke="#000" stroke-width="0.7"/>
<line x1="257.18" y1="1.0" x2="257.18" y2="2.2" stroke="#000" stroke-width="0.7"/>
<line x1="259.2" y1="141.3" x2="259.2" y2="140.1" stroke="#000" stroke-width="0.7"/>
<line x1="259.2" y1="1.0" x2="259.2" y2="2.2" stroke="#000" stroke-width="0.7"/>
<line x1="260.94" y1="141.3" x2="260.94" y2="140.1" stroke="#000" stroke-width="0.7"/>
<line x1="260.94" y1="1.0" x2="260.94" y2="2.2" stroke="#000" stroke-width="0.7"/>
<line x1="262.47" y1="141.3" x2="262.47" y2="140.1" stroke="#000" stroke-width="0.7"/>
<line x1="262.47" y1="1.0" x2="262.47" y2="2.2" stroke="#000" stroke-width="0.7"/>
<text x="234.8" y="152.9" font-size="10" font-weight="bold" text-anchor="middle" fill="#000" >10<tspan font-size="6" dy="-4.5">2</tspan></text>
<line x1="263.85" y1="141.3" x2="263.85" y2="139.1" stroke="#000" stroke-width="1"/>
<line x1="263.85" y1="1.0" x2="263.85" y2="3.2" stroke="#000" stroke-width="1"/>
<line x1="272.9" y1="141.3" x2="272.9" y2="140.1" stroke="#000" stroke-width="0.7"/>
<line x1="272.9" y1="1.0" x2="272.9" y2="2.2" stroke="#000" stroke-width="0.7"/>
<line x1="278.19" y1="141.3" x2="278.19" y2="140.1" stroke="#000" stroke-width="0.7"/>
<line x1="278.19" y1="1.0" x2="278.19" y2="2.2" stroke="#000" stroke-width="0.7"/>
<line x1="281.94" y1="141.3" x2="281.94" y2="140.1" stroke="#000" stroke-width="0.7"/>
<line x1="281.94" y1="1.0" x2="281.94" y2="2.2" stroke="#000" stroke-width="0.7"/>
<line x1="284.85" y1="141.3" x2="284.85" y2="140.1" stroke="#000" stroke-width="0.7"/>
<line x1="284.85" y1="1.0" x2="284.85" y2="2.2" stroke="#000" stroke-width="0.7"/>
<line x1="287.23" y1="141.3" x2="287.23" y2="140.1" stroke="#000" stroke-width="0.7"/>
<line x1="287.23" y1="1.0" x2="287.23" y2="2.2" stroke="#000" stroke-width="0.7"/>
<line x1="289.25" y1="141.3" x2="289.25" y2="140.1" stroke="#000" stroke-width="0.7"/>
<line x1="289.25" y1="1.0" x2="289.25" y2="2.2" stroke="#000" stroke-width="0.7"/>
<line x1="290.99" y1="141.3" x2="290.99" y2="140.1" stroke="#000" stroke-width="0.7"/>
<line x1="290.99" y1="1.0" x2="290.99" y2="2.2" stroke="#000" stroke-width="0.7"/>
<line x1="292.52" y1="141.3" x2="292.52" y2="140.1" stroke="#000" stroke-width="0.7"/>
<line x1="292.52" y1="1.0" x2="292.52" y2="2.2" stroke="#000" stroke-width="0.7"/>
<text x="264.85" y="152.9" font-size="10" font-weight="bold" text-anchor="middle" fill="#000" >10<tspan font-size="6" dy="-4.5">3</tspan></text>
<line x1="293.9" y1="141.3" x2="293.9" y2="139.1" stroke="#000" stroke-width="1"/>
<line x1="293.9" y1="1.0" x2="293.9" y2="3.2" stroke="#000" stroke-width="1"/>
<line x1="302.95" y1="141.3" x2="302.95" y2="140.1" stroke="#000" stroke-width="0.7"/>
<line x1="302.95" y1="1.0" x2="302.95" y2="2.2" stroke="#000" stroke-width="0.7"/>
<line x1="308.24" y1="141.3" x2="308.24" y2="140.1" stroke="#000" stroke-width="0.7"/>
<line x1="308.24" y1="1.0" x2="308.24" y2="2.2" stroke="#000" stroke-width="0.7"/>
<line x1="311.99" y1="141.3" x2="311.99" y2="140.1" stroke="#000" stroke-width="0.7"/>
<line x1="311.99" y1="1.0" x2="311.99" y2="2.2" stroke="#000" stroke-width="0.7"/>
<line x1="314.9" y1="141.3" x2="314.9" y2="140.1" stroke="#000" stroke-width="0.7"/>
<line x1="314.9" y1="1.0" x2="314.9" y2="2.2" stroke="#000" stroke-width="0.7"/>
<line x1="317.28" y1="141.3" x2="317.28" y2="140.1" stroke="#000" stroke-width="0.7"/>
<line x1="317.28" y1="1.0" x2="317.28" y2="2.2" stroke="#000" stroke-width="0.7"/>
<line x1="319.3" y1="141.3" x2="319.3" y2="140.1" stroke="#000" stroke-width="0.7"/>
<line x1="319.3" y1="1.0" x2="319.3" y2="2.2" stroke="#000" stroke-width="0.7"/>
<line x1="321.04" y1="141.3" x2="321.04" y2="140.1" stroke="#000" stroke-width="0.7"/>
<line x1="321.04" y1="1.0" x2="321.04" y2="2.2" stroke="#000" stroke-width="0.7"/>
<line x1="322.57" y1="141.3" x2="322.57" y2="140.1" stroke="#000" stroke-width="0.7"/>
<line x1="322.57" y1="1.0" x2="322.57" y2="2.2" stroke="#000" stroke-width="0.7"/>
<text x="294.9" y="152.9" font-size="10" font-weight="bold" text-anchor="middle" fill="#000" >10<tspan font-size="6" dy="-4.5">4</tspan></text>
<line x1="323.95" y1="141.3" x2="323.95" y2="139.1" stroke="#000" stroke-width="1"/>
<line x1="323.95" y1="1.0" x2="323.95" y2="3.2" stroke="#000" stroke-width="1"/>
<line x1="333" y1="141.3" x2="333" y2="140.1" stroke="#000" stroke-width="0.7"/>
<line x1="333" y1="1.0" x2="333" y2="2.2" stroke="#000" stroke-width="0.7"/>
<line x1="338.29" y1="141.3" x2="338.29" y2="140.1" stroke="#000" stroke-width="0.7"/>
<line x1="338.29" y1="1.0" x2="338.29" y2="2.2" stroke="#000" stroke-width="0.7"/>
<line x1="342.04" y1="141.3" x2="342.04" y2="140.1" stroke="#000" stroke-width="0.7"/>
<line x1="342.04" y1="1.0" x2="342.04" y2="2.2" stroke="#000" stroke-width="0.7"/>
<line x1="344.95" y1="141.3" x2="344.95" y2="140.1" stroke="#000" stroke-width="0.7"/>
<line x1="344.95" y1="1.0" x2="344.95" y2="2.2" stroke="#000" stroke-width="0.7"/>
<line x1="347.33" y1="141.3" x2="347.33" y2="140.1" stroke="#000" stroke-width="0.7"/>
<line x1="347.33" y1="1.0" x2="347.33" y2="2.2" stroke="#000" stroke-width="0.7"/>
<line x1="349.35" y1="141.3" x2="349.35" y2="140.1" stroke="#000" stroke-width="0.7"/>
<line x1="349.35" y1="1.0" x2="349.35" y2="2.2" stroke="#000" stroke-width="0.7"/>
<line x1="351.09" y1="141.3" x2="351.09" y2="140.1" stroke="#000" stroke-width="0.7"/>
<line x1="351.09" y1="1.0" x2="351.09" y2="2.2" stroke="#000" stroke-width="0.7"/>
<line x1="352.62" y1="141.3" x2="352.62" y2="140.1" stroke="#000" stroke-width="0.7"/>
<line x1="352.62" y1="1.0" x2="352.62" y2="2.2" stroke="#000" stroke-width="0.7"/>
<text x="324.95" y="152.9" font-size="10" font-weight="bold" text-anchor="middle" fill="#000" >10<tspan font-size="6" dy="-4.5">5</tspan></text>
<line x1="354" y1="141.3" x2="354" y2="139.1" stroke="#000" stroke-width="1"/>
<line x1="354" y1="1.0" x2="354" y2="3.2" stroke="#000" stroke-width="1"/>
<line x1="363.05" y1="141.3" x2="363.05" y2="140.1" stroke="#000" stroke-width="0.7"/>
<line x1="363.05" y1="1.0" x2="363.05" y2="2.2" stroke="#000" stroke-width="0.7"/>
<line x1="368.34" y1="141.3" x2="368.34" y2="140.1" stroke="#000" stroke-width="0.7"/>
<line x1="368.34" y1="1.0" x2="368.34" y2="2.2" stroke="#000" stroke-width="0.7"/>
<line x1="372.09" y1="141.3" x2="372.09" y2="140.1" stroke="#000" stroke-width="0.7"/>
<line x1="372.09" y1="1.0" x2="372.09" y2="2.2" stroke="#000" stroke-width="0.7"/>
<line x1="375" y1="141.3" x2="375" y2="140.1" stroke="#000" stroke-width="0.7"/>
<line x1="375" y1="1.0" x2="375" y2="2.2" stroke="#000" stroke-width="0.7"/>
<line x1="377.38" y1="141.3" x2="377.38" y2="140.1" stroke="#000" stroke-width="0.7"/>
<line x1="377.38" y1="1.0" x2="377.38" y2="2.2" stroke="#000" stroke-width="0.7"/>
<line x1="379.4" y1="141.3" x2="379.4" y2="140.1" stroke="#000" stroke-width="0.7"/>
<line x1="379.4" y1="1.0" x2="379.4" y2="2.2" stroke="#000" stroke-width="0.7"/>
<line x1="381.14" y1="141.3" x2="381.14" y2="140.1" stroke="#000" stroke-width="0.7"/>
<line x1="381.14" y1="1.0" x2="381.14" y2="2.2" stroke="#000" stroke-width="0.7"/>
<line x1="382.67" y1="141.3" x2="382.67" y2="140.1" stroke="#000" stroke-width="0.7"/>
<line x1="382.67" y1="1.0" x2="382.67" y2="2.2" stroke="#000" stroke-width="0.7"/>
<text x="355" y="152.9" font-size="10" font-weight="bold" text-anchor="middle" fill="#000" >10<tspan font-size="6" dy="-4.5">6</tspan></text>
<rect x="275.6" y="6" width="105.6" height="16.8" fill="#000"/>
<rect x="273.9" y="4.5" width="106" height="16.6" fill="#fff" stroke="#999" stroke-width="0.8"/>
<path d="M281.7,4.9 L285.5,11.3 L277.9,11.3 Z" fill="#ff0000"/>
<text x="291" y="10.7" font-size="6.3" font-weight="normal" text-anchor="start" fill="#000" >Measured Capacitance at 1 V</text>
<path d="M274.4,16.3 H278 M281.7,16.3 H286.4" stroke="#000" stroke-width="1.1"/>
<text x="291" y="18.9" font-size="6.5" font-weight="normal" text-anchor="start" fill="#000" >Distributed Border Trap Model</text>
<text x="234.4" y="17" font-size="10" font-weight="bold" text-anchor="start" fill="#000" >(b)</text>
<text x="286.3" y="166" font-size="10" font-weight="bold" text-anchor="start" fill="#000" ><tspan font-family="Liberation Serif" font-size="10">ω</tspan></text>
<text x="295.6" y="166.3" font-size="9.9" font-weight="bold" text-anchor="start" fill="#000" >(rad/s)</text>
<text transform="translate(205.0,65.5) rotate(-90)" font-size="10.6" font-weight="bold" text-anchor="middle">Capacitance (μF/cm<tspan font-size="6.5" dy="-4">2</tspan><tspan dy="4">)</tspan></text>
<path d="M32.8,299.51 L37.6,300.68 L52.89,305.71 L73.11,309.8 L88.4,313.6 L103.69,316.39 L123.91,318.88 L139.2,320.02 L154.49,320.72 L174.71,321.15 L187.1,321.28" fill="none" stroke="#000000" stroke-width="1.1" stroke-linejoin="round"/>
<path d="M32.8,293.42 L37.6,294.41 L52.89,298.97 L73.11,305.33 L88.4,311.13 L103.69,315.28 L123.91,318.65 L139.2,319.99 L154.49,320.72 L174.71,321.17 L187.1,321.29" fill="none" stroke="#ff0000" stroke-width="1.1" stroke-linejoin="round"/>
<path d="M32.8,286.68 L37.6,287 L52.89,290.23 L73.11,296.5 L88.4,304.1 L103.69,312.65 L123.91,317.75 L139.2,319.48 L154.49,320.25 L174.71,320.85 L187.1,321.02" fill="none" stroke="#00ee00" stroke-width="1.1" stroke-linejoin="round"/>
<path d="M32.8,278 L37.6,278.16 L52.89,281.3 L73.11,286.14 L88.4,294.6 L103.69,306.28 L123.91,314.27 L139.2,317.07 L154.49,318.35 L174.71,319.31 L187.1,319.58" fill="none" stroke="#0000ff" stroke-width="1.1" stroke-linejoin="round"/>
<path d="M32.8,269.38 L37.6,269.52 L52.89,272.75 L73.11,275.6 L88.4,282.25 L103.69,294.22 L123.91,306.84 L139.2,312.38 L154.49,315.31 L174.71,317.2 L187.1,317.75" fill="none" stroke="#00ffff" stroke-width="1.1" stroke-linejoin="round"/>
<path d="M32.8,259.98 L37.6,260.02 L52.89,262.3 L73.11,264.2 L88.4,267.05 L103.69,278.45 L123.91,296.58 L139.2,306.59 L154.49,312.27 L174.71,315.88 L187.1,316.93" fill="none" stroke="#ff00ff" stroke-width="1.1" stroke-linejoin="round"/>
<path d="M32.8,251.71 L37.6,251.75 L52.89,252.32 L73.11,253.27 L88.4,255.37 L103.69,264.2 L123.91,277.97 L139.2,294.6 L154.49,306.95 L174.71,314.26 L187.1,316.97" fill="none" stroke="#808000" stroke-width="1.1" stroke-linejoin="round"/>
<path d="M32.8,245.19 L37.6,245.2 L52.89,245.36 L73.11,245.95 L88.4,247.58 L103.69,252.8 L123.91,263.15 L139.2,280.82 L154.49,300.77 L174.71,309.23 L187.1,311.72" fill="none" stroke="#000080" stroke-width="1.1" stroke-linejoin="round"/>
<path d="M32.8,239.59 L37.6,239.59 L52.89,240.48 L73.11,241.68 L88.4,242.77 L103.69,244.82 L123.91,251.56 L139.2,267.43 L154.49,292.03 L174.71,304.67 L187.1,308.84" fill="none" stroke="#800080" stroke-width="1.1" stroke-linejoin="round"/>
<path d="M32.8,234.56 L37.6,234.56 L52.89,235.53 L73.11,236.84 L88.4,237.9 L103.69,239.4 L123.91,243.11 L139.2,254.99 L154.49,282.25 L174.71,298.78 L187.1,304.96" fill="none" stroke="#008000" stroke-width="1.1" stroke-linejoin="round"/>
<path d="M32.8,230.66 L37.6,230.66 L52.89,231.49 L73.11,232.59 L88.4,233.48 L103.69,234.65 L123.91,236.84 L139.2,245.86 L154.49,272.46 L174.71,292.03 L187.1,299.26" fill="none" stroke="#800000" stroke-width="1.1" stroke-linejoin="round"/>
<path d="M32.8,226.48 L37.6,226.48 L52.89,227.43 L73.11,228.68 L88.4,229.67 L103.69,230.85 L123.91,232.85 L139.2,238.83 L154.49,262.49 L174.71,284.34 L187.1,292.22" fill="none" stroke="#8000ff" stroke-width="1.1" stroke-linejoin="round"/>
<path d="M32.8,225.25 L37.6,225.25 L52.89,226.13 L73.11,227.3 L88.4,228.21 L103.69,229.24 L123.91,230 L139.2,233.89 L154.49,253.75 L174.71,276.74 L187.1,285.34" fill="none" stroke="#0000ff" stroke-width="1.1" stroke-linejoin="round"/>
<path d="M32.8,223.35 L37.6,223.35 L52.89,224 L73.11,224.86 L88.4,225.54 L103.69,226.39 L123.91,227.15 L139.2,231.81 L154.49,246.91 L174.71,268.95 L187.1,277.68" fill="none" stroke="#ff8000" stroke-width="1.1" stroke-linejoin="round"/>
<path d="M32.8,221.83 L37.6,221.83 L52.89,221.83 L73.11,221.83 L88.4,221.86 L103.69,221.98 L123.91,223.12 L139.2,227.62 L154.49,240.26 L174.71,261.16 L187.1,269.34" fill="none" stroke="#a000a0" stroke-width="1.1" stroke-linejoin="round"/>
<path d="M32.8,220.59 L37.6,220.59 L52.89,220.57 L73.11,220.55 L88.4,220.54 L103.69,220.6 L123.91,221.41 L139.2,225.1 L154.49,236.17 L174.71,254.89 L187.1,261.23" fill="none" stroke="#ff0080" stroke-width="1.1" stroke-linejoin="round"/>
<path d="M32.8,220.12 L37.6,220.12 L52.89,220.07 L73.11,220.01 L88.4,219.97 L103.69,220 L123.91,220.69 L139.2,223.9 L154.49,233.32 L174.71,249.19 L187.1,253.62" fill="none" stroke="#808080" stroke-width="1.1" stroke-linejoin="round"/>
<path d="M32.8,219.55 L37.6,219.55 L52.89,219.55 L73.11,219.55 L88.4,219.57 L103.69,219.67 L123.91,220.48 L139.2,223.31 L154.49,230.76 L174.71,243.39 L187.1,248.58" fill="none" stroke="#ff80ff" stroke-width="1.1" stroke-linejoin="round"/>
<path d="M32.8,218.22 L37.6,218.22 L52.89,218.29 L73.11,218.39 L88.4,218.48 L103.69,218.6 L123.91,219.07 L139.2,221.45 L154.49,227.62 L174.71,239.59 L187.1,242.87" fill="none" stroke="#404040" stroke-width="1.1" stroke-linejoin="round"/>
<circle cx="37.6" cy="300.3" r="2.5" fill="#000000"/>
<circle cx="52.89" cy="305.4" r="2.5" fill="#000000"/>
<circle cx="73.11" cy="309.57" r="2.5" fill="#000000"/>
<circle cx="88.4" cy="313.43" r="2.5" fill="#000000"/>
<circle cx="103.69" cy="316.28" r="2.5" fill="#000000"/>
<circle cx="123.91" cy="318.85" r="2.5" fill="#000000"/>
<circle cx="139.2" cy="320.02" r="2.5" fill="#000000"/>
<circle cx="154.49" cy="320.72" r="2.5" fill="#000000"/>
<circle cx="174.71" cy="321.15" r="2.5" fill="#000000"/>
<circle cx="37.6" cy="294.03" r="2.5" fill="#ff0000"/>
<circle cx="52.89" cy="298.66" r="2.5" fill="#ff0000"/>
<circle cx="73.11" cy="305.11" r="2.5" fill="#ff0000"/>
<circle cx="88.4" cy="310.96" r="2.5" fill="#ff0000"/>
<circle cx="103.69" cy="315.18" r="2.5" fill="#ff0000"/>
<circle cx="123.91" cy="318.62" r="2.5" fill="#ff0000"/>
<circle cx="139.2" cy="319.99" r="2.5" fill="#ff0000"/>
<circle cx="154.49" cy="320.72" r="2.5" fill="#ff0000"/>
<circle cx="174.71" cy="321.17" r="2.5" fill="#ff0000"/>
<circle cx="37.6" cy="286.62" r="2.5" fill="#00ee00"/>
<circle cx="52.89" cy="289.92" r="2.5" fill="#00ee00"/>
<circle cx="73.11" cy="296.27" r="2.5" fill="#00ee00"/>
<circle cx="88.4" cy="303.93" r="2.5" fill="#00ee00"/>
<circle cx="103.69" cy="312.54" r="2.5" fill="#00ee00"/>
<circle cx="123.91" cy="317.72" r="2.5" fill="#00ee00"/>
<circle cx="139.2" cy="319.48" r="2.5" fill="#00ee00"/>
<circle cx="154.49" cy="320.25" r="2.5" fill="#00ee00"/>
<circle cx="174.71" cy="320.85" r="2.5" fill="#00ee00"/>
<circle cx="37.6" cy="277.78" r="2.5" fill="#0000ff"/>
<circle cx="52.89" cy="280.99" r="2.5" fill="#0000ff"/>
<circle cx="73.11" cy="285.92" r="2.5" fill="#0000ff"/>
<circle cx="88.4" cy="294.43" r="2.5" fill="#0000ff"/>
<circle cx="103.69" cy="306.18" r="2.5" fill="#0000ff"/>
<circle cx="123.91" cy="314.24" r="2.5" fill="#0000ff"/>
<circle cx="139.2" cy="317.07" r="2.5" fill="#0000ff"/>
<circle cx="154.49" cy="318.35" r="2.5" fill="#0000ff"/>
<circle cx="174.71" cy="319.31" r="2.5" fill="#0000ff"/>
<circle cx="37.6" cy="268.76" r="2.5" fill="#00ffff"/>
<circle cx="52.89" cy="272.12" r="2.5" fill="#00ffff"/>
<circle cx="73.11" cy="275.14" r="2.5" fill="#00ffff"/>
<circle cx="88.4" cy="281.92" r="2.5" fill="#00ffff"/>
<circle cx="103.69" cy="294.01" r="2.5" fill="#00ffff"/>
<circle cx="123.91" cy="306.77" r="2.5" fill="#00ffff"/>
<circle cx="139.2" cy="312.38" r="2.5" fill="#00ffff"/>
<circle cx="154.49" cy="315.31" r="2.5" fill="#00ffff"/>
<circle cx="174.71" cy="317.2" r="2.5" fill="#00ffff"/>
<circle cx="37.6" cy="259.07" r="2.5" fill="#ff00ff"/>
<circle cx="52.89" cy="261.51" r="2.5" fill="#ff00ff"/>
<circle cx="73.11" cy="263.63" r="2.5" fill="#ff00ff"/>
<circle cx="88.4" cy="266.63" r="2.5" fill="#ff00ff"/>
<circle cx="103.69" cy="278.18" r="2.5" fill="#ff00ff"/>
<circle cx="123.91" cy="296.5" r="2.5" fill="#ff00ff"/>
<circle cx="139.2" cy="306.59" r="2.5" fill="#ff00ff"/>
<circle cx="154.49" cy="312.27" r="2.5" fill="#ff00ff"/>
<circle cx="174.71" cy="315.88" r="2.5" fill="#ff00ff"/>
<circle cx="37.6" cy="250.23" r="2.5" fill="#808000"/>
<circle cx="52.89" cy="251.07" r="2.5" fill="#808000"/>
<circle cx="73.11" cy="252.36" r="2.5" fill="#808000"/>
<circle cx="88.4" cy="254.7" r="2.5" fill="#808000"/>
<circle cx="103.69" cy="263.77" r="2.5" fill="#808000"/>
<circle cx="123.91" cy="277.85" r="2.5" fill="#808000"/>
<circle cx="139.2" cy="294.6" r="2.5" fill="#808000"/>
<circle cx="154.49" cy="306.95" r="2.5" fill="#808000"/>
<circle cx="174.71" cy="314.26" r="2.5" fill="#808000"/>
<circle cx="37.6" cy="241.4" r="2.5" fill="#000080"/>
<circle cx="52.89" cy="242.22" r="2.5" fill="#000080"/>
<circle cx="73.11" cy="243.66" r="2.5" fill="#000080"/>
<circle cx="88.4" cy="245.91" r="2.5" fill="#000080"/>
<circle cx="103.69" cy="251.73" r="2.5" fill="#000080"/>
<circle cx="123.91" cy="262.83" r="2.5" fill="#000080"/>
<circle cx="139.2" cy="280.82" r="2.5" fill="#000080"/>
<circle cx="154.49" cy="300.77" r="2.5" fill="#000080"/>
<circle cx="174.71" cy="309.23" r="2.5" fill="#000080"/>
<circle cx="37.6" cy="234.27" r="2.5" fill="#800080"/>
<circle cx="52.89" cy="236.07" r="2.5" fill="#800080"/>
<circle cx="73.11" cy="238.46" r="2.5" fill="#800080"/>
<circle cx="88.4" cy="240.43" r="2.5" fill="#800080"/>
<circle cx="103.69" cy="243.33" r="2.5" fill="#800080"/>
<circle cx="123.91" cy="251.12" r="2.5" fill="#800080"/>
<circle cx="139.2" cy="267.43" r="2.5" fill="#800080"/>
<circle cx="154.49" cy="292.03" r="2.5" fill="#800080"/>
<circle cx="174.71" cy="304.67" r="2.5" fill="#800080"/>
<circle cx="37.6" cy="228.38" r="2.5" fill="#008000"/>
<circle cx="52.89" cy="230.43" r="2.5" fill="#008000"/>
<circle cx="73.11" cy="233.11" r="2.5" fill="#008000"/>
<circle cx="88.4" cy="235.19" r="2.5" fill="#008000"/>
<circle cx="103.69" cy="237.67" r="2.5" fill="#008000"/>
<circle cx="123.91" cy="242.59" r="2.5" fill="#008000"/>
<circle cx="139.2" cy="254.99" r="2.5" fill="#008000"/>
<circle cx="154.49" cy="282.25" r="2.5" fill="#008000"/>
<circle cx="174.71" cy="298.78" r="2.5" fill="#008000"/>
<circle cx="37.6" cy="224.49" r="2.5" fill="#800000"/>
<circle cx="52.89" cy="226.38" r="2.5" fill="#800000"/>
<circle cx="73.11" cy="228.86" r="2.5" fill="#800000"/>
<circle cx="88.4" cy="230.76" r="2.5" fill="#800000"/>
<circle cx="103.69" cy="232.92" r="2.5" fill="#800000"/>
<circle cx="123.91" cy="236.32" r="2.5" fill="#800000"/>
<circle cx="139.2" cy="245.86" r="2.5" fill="#800000"/>
<circle cx="154.49" cy="272.46" r="2.5" fill="#800000"/>
<circle cx="174.71" cy="292.03" r="2.5" fill="#800000"/>
<circle cx="37.6" cy="220.88" r="2.5" fill="#8000ff"/>
<circle cx="52.89" cy="222.79" r="2.5" fill="#8000ff"/>
<circle cx="73.11" cy="225.3" r="2.5" fill="#8000ff"/>
<circle cx="88.4" cy="227.2" r="2.5" fill="#8000ff"/>
<circle cx="103.69" cy="229.28" r="2.5" fill="#8000ff"/>
<circle cx="123.91" cy="232.38" r="2.5" fill="#8000ff"/>
<circle cx="139.2" cy="238.83" r="2.5" fill="#8000ff"/>
<circle cx="154.49" cy="262.49" r="2.5" fill="#8000ff"/>
<circle cx="174.71" cy="284.34" r="2.5" fill="#8000ff"/>
<circle cx="37.6" cy="219.26" r="2.5" fill="#0000ff"/>
<circle cx="52.89" cy="221.18" r="2.5" fill="#0000ff"/>
<circle cx="73.11" cy="223.68" r="2.5" fill="#0000ff"/>
<circle cx="88.4" cy="225.57" r="2.5" fill="#0000ff"/>
<circle cx="103.69" cy="227.56" r="2.5" fill="#0000ff"/>
<circle cx="123.91" cy="229.49" r="2.5" fill="#0000ff"/>
<circle cx="139.2" cy="233.89" r="2.5" fill="#0000ff"/>
<circle cx="154.49" cy="253.75" r="2.5" fill="#0000ff"/>
<circle cx="174.71" cy="276.74" r="2.5" fill="#0000ff"/>
<circle cx="37.6" cy="217.27" r="2.5" fill="#ff8000"/>
<circle cx="52.89" cy="218.97" r="2.5" fill="#ff8000"/>
<circle cx="73.11" cy="221.19" r="2.5" fill="#ff8000"/>
<circle cx="88.4" cy="222.87" r="2.5" fill="#ff8000"/>
<circle cx="103.69" cy="224.68" r="2.5" fill="#ff8000"/>
<circle cx="123.91" cy="226.64" r="2.5" fill="#ff8000"/>
<circle cx="139.2" cy="231.81" r="2.5" fill="#ff8000"/>
<circle cx="154.49" cy="246.91" r="2.5" fill="#ff8000"/>
<circle cx="174.71" cy="268.95" r="2.5" fill="#ff8000"/>
<circle cx="37.6" cy="215.46" r="2.5" fill="#a000a0"/>
<circle cx="52.89" cy="216.56" r="2.5" fill="#a000a0"/>
<circle cx="73.11" cy="217.99" r="2.5" fill="#a000a0"/>
<circle cx="88.4" cy="219.06" r="2.5" fill="#a000a0"/>
<circle cx="103.69" cy="220.19" r="2.5" fill="#a000a0"/>
<circle cx="123.91" cy="222.58" r="2.5" fill="#a000a0"/>
<circle cx="139.2" cy="227.62" r="2.5" fill="#a000a0"/>
<circle cx="154.49" cy="240.26" r="2.5" fill="#a000a0"/>
<circle cx="174.71" cy="261.16" r="2.5" fill="#a000a0"/>
<circle cx="37.6" cy="213.85" r="2.5" fill="#ff0080"/>
<circle cx="52.89" cy="214.99" r="2.5" fill="#ff0080"/>
<circle cx="73.11" cy="216.47" r="2.5" fill="#ff0080"/>
<circle cx="88.4" cy="217.57" r="2.5" fill="#ff0080"/>
<circle cx="103.69" cy="218.7" r="2.5" fill="#ff0080"/>
<circle cx="123.91" cy="220.84" r="2.5" fill="#ff0080"/>
<circle cx="139.2" cy="225.1" r="2.5" fill="#ff0080"/>
<circle cx="154.49" cy="236.17" r="2.5" fill="#ff0080"/>
<circle cx="174.71" cy="254.89" r="2.5" fill="#ff0080"/>
<circle cx="37.6" cy="212.42" r="2.5" fill="#808080"/>
<circle cx="52.89" cy="213.71" r="2.5" fill="#808080"/>
<circle cx="73.11" cy="215.36" r="2.5" fill="#808080"/>
<circle cx="88.4" cy="216.59" r="2.5" fill="#808080"/>
<circle cx="103.69" cy="217.84" r="2.5" fill="#808080"/>
<circle cx="123.91" cy="220.04" r="2.5" fill="#808080"/>
<circle cx="139.2" cy="223.9" r="2.5" fill="#808080"/>
<circle cx="154.49" cy="233.32" r="2.5" fill="#808080"/>
<circle cx="174.71" cy="249.19" r="2.5" fill="#808080"/>
<circle cx="37.6" cy="210.81" r="2.5" fill="#ff80ff"/>
<circle cx="52.89" cy="212.32" r="2.5" fill="#ff80ff"/>
<circle cx="73.11" cy="214.27" r="2.5" fill="#ff80ff"/>
<circle cx="88.4" cy="215.73" r="2.5" fill="#ff80ff"/>
<circle cx="103.69" cy="217.22" r="2.5" fill="#ff80ff"/>
<circle cx="123.91" cy="219.74" r="2.5" fill="#ff80ff"/>
<circle cx="139.2" cy="223.31" r="2.5" fill="#ff80ff"/>
<circle cx="154.49" cy="230.76" r="2.5" fill="#ff80ff"/>
<circle cx="174.71" cy="243.39" r="2.5" fill="#ff80ff"/>
<circle cx="37.6" cy="208.15" r="2.5" fill="#404040"/>
<circle cx="52.89" cy="209.96" r="2.5" fill="#404040"/>
<circle cx="73.11" cy="212.31" r="2.5" fill="#404040"/>
<circle cx="88.4" cy="214.05" r="2.5" fill="#404040"/>
<circle cx="103.69" cy="215.77" r="2.5" fill="#404040"/>
<circle cx="123.91" cy="218.22" r="2.5" fill="#404040"/>
<circle cx="139.2" cy="221.45" r="2.5" fill="#404040"/>
<circle cx="154.49" cy="227.62" r="2.5" fill="#404040"/>
<circle cx="174.71" cy="239.59" r="2.5" fill="#404040"/>
<rect x="32.8" y="189.2" width="154.3" height="140.10000000000002" fill="none" stroke="#000" stroke-width="1.2"/>
<line x1="32.8" y1="321.2" x2="35.0" y2="321.2" stroke="#000" stroke-width="1"/>
<line x1="187.1" y1="321.2" x2="184.9" y2="321.2" stroke="#000" stroke-width="1"/>
<text x="31.3" y="324.7" font-size="10" font-weight="bold" text-anchor="end" fill="#000" >0.0</text>
<line x1="32.8" y1="311.43" x2="34.0" y2="311.43" stroke="#000" stroke-width="0.8"/>
<line x1="187.1" y1="311.43" x2="185.9" y2="311.43" stroke="#000" stroke-width="0.8"/>
<line x1="32.8" y1="301.66" x2="35.0" y2="301.66" stroke="#000" stroke-width="1"/>
<line x1="187.1" y1="301.66" x2="184.9" y2="301.66" stroke="#000" stroke-width="1"/>
<text x="31.3" y="305.16" font-size="10" font-weight="bold" text-anchor="end" fill="#000" >0.2</text>
<line x1="32.8" y1="311.43" x2="34.0" y2="311.43" stroke="#000" stroke-width="0.8"/>
<line x1="187.1" y1="311.43" x2="185.9" y2="311.43" stroke="#000" stroke-width="0.8"/>
<line x1="32.8" y1="291.89" x2="34.0" y2="291.89" stroke="#000" stroke-width="0.8"/>
<line x1="187.1" y1="291.89" x2="185.9" y2="291.89" stroke="#000" stroke-width="0.8"/>
<line x1="32.8" y1="282.12" x2="35.0" y2="282.12" stroke="#000" stroke-width="1"/>
<line x1="187.1" y1="282.12" x2="184.9" y2="282.12" stroke="#000" stroke-width="1"/>
<text x="31.3" y="285.62" font-size="10" font-weight="bold" text-anchor="end" fill="#000" >0.4</text>
<line x1="32.8" y1="291.89" x2="34.0" y2="291.89" stroke="#000" stroke-width="0.8"/>
<line x1="187.1" y1="291.89" x2="185.9" y2="291.89" stroke="#000" stroke-width="0.8"/>
<line x1="32.8" y1="272.35" x2="34.0" y2="272.35" stroke="#000" stroke-width="0.8"/>
<line x1="187.1" y1="272.35" x2="185.9" y2="272.35" stroke="#000" stroke-width="0.8"/>
<line x1="32.8" y1="262.58" x2="35.0" y2="262.58" stroke="#000" stroke-width="1"/>
<line x1="187.1" y1="262.58" x2="184.9" y2="262.58" stroke="#000" stroke-width="1"/>
<text x="31.3" y="266.08" font-size="10" font-weight="bold" text-anchor="end" fill="#000" >0.6</text>
<line x1="32.8" y1="272.35" x2="34.0" y2="272.35" stroke="#000" stroke-width="0.8"/>
<line x1="187.1" y1="272.35" x2="185.9" y2="272.35" stroke="#000" stroke-width="0.8"/>
<line x1="32.8" y1="252.81" x2="34.0" y2="252.81" stroke="#000" stroke-width="0.8"/>
<line x1="187.1" y1="252.81" x2="185.9" y2="252.81" stroke="#000" stroke-width="0.8"/>
<line x1="32.8" y1="243.04" x2="35.0" y2="243.04" stroke="#000" stroke-width="1"/>
<line x1="187.1" y1="243.04" x2="184.9" y2="243.04" stroke="#000" stroke-width="1"/>
<text x="31.3" y="246.54" font-size="10" font-weight="bold" text-anchor="end" fill="#000" >0.8</text>
<line x1="32.8" y1="252.81" x2="34.0" y2="252.81" stroke="#000" stroke-width="0.8"/>
<line x1="187.1" y1="252.81" x2="185.9" y2="252.81" stroke="#000" stroke-width="0.8"/>
<line x1="32.8" y1="233.27" x2="34.0" y2="233.27" stroke="#000" stroke-width="0.8"/>
<line x1="187.1" y1="233.27" x2="185.9" y2="233.27" stroke="#000" stroke-width="0.8"/>
<line x1="32.8" y1="223.5" x2="35.0" y2="223.5" stroke="#000" stroke-width="1"/>
<line x1="187.1" y1="223.5" x2="184.9" y2="223.5" stroke="#000" stroke-width="1"/>
<text x="31.3" y="227" font-size="10" font-weight="bold" text-anchor="end" fill="#000" >1.0</text>
<line x1="32.8" y1="233.27" x2="34.0" y2="233.27" stroke="#000" stroke-width="0.8"/>
<line x1="187.1" y1="233.27" x2="185.9" y2="233.27" stroke="#000" stroke-width="0.8"/>
<line x1="32.8" y1="213.73" x2="34.0" y2="213.73" stroke="#000" stroke-width="0.8"/>
<line x1="187.1" y1="213.73" x2="185.9" y2="213.73" stroke="#000" stroke-width="0.8"/>
<line x1="32.8" y1="203.96" x2="35.0" y2="203.96" stroke="#000" stroke-width="1"/>
<line x1="187.1" y1="203.96" x2="184.9" y2="203.96" stroke="#000" stroke-width="1"/>
<text x="31.3" y="207.46" font-size="10" font-weight="bold" text-anchor="end" fill="#000" >1.2</text>
<line x1="32.8" y1="213.73" x2="34.0" y2="213.73" stroke="#000" stroke-width="0.8"/>
<line x1="187.1" y1="213.73" x2="185.9" y2="213.73" stroke="#000" stroke-width="0.8"/>
<line x1="32.8" y1="194.19" x2="34.0" y2="194.19" stroke="#000" stroke-width="0.8"/>
<line x1="187.1" y1="194.19" x2="185.9" y2="194.19" stroke="#000" stroke-width="0.8"/>
<line x1="37.6" y1="329.3" x2="37.6" y2="327.1" stroke="#000" stroke-width="1"/>
<line x1="52.89" y1="329.3" x2="52.89" y2="328.1" stroke="#000" stroke-width="0.7"/>
<line x1="61.84" y1="329.3" x2="61.84" y2="328.1" stroke="#000" stroke-width="0.7"/>
<line x1="68.18" y1="329.3" x2="68.18" y2="328.1" stroke="#000" stroke-width="0.7"/>
<line x1="73.11" y1="329.3" x2="73.11" y2="328.1" stroke="#000" stroke-width="0.7"/>
<line x1="77.13" y1="329.3" x2="77.13" y2="328.1" stroke="#000" stroke-width="0.7"/>
<line x1="80.53" y1="329.3" x2="80.53" y2="328.1" stroke="#000" stroke-width="0.7"/>
<line x1="83.48" y1="329.3" x2="83.48" y2="328.1" stroke="#000" stroke-width="0.7"/>
<line x1="86.08" y1="329.3" x2="86.08" y2="328.1" stroke="#000" stroke-width="0.7"/>
<text x="38.4" y="340.2" font-size="9.5" font-weight="bold" text-anchor="middle" fill="#000" >10<tspan font-size="6" dy="-4">3</tspan></text>
<line x1="88.4" y1="329.3" x2="88.4" y2="327.1" stroke="#000" stroke-width="1"/>
<line x1="103.69" y1="329.3" x2="103.69" y2="328.1" stroke="#000" stroke-width="0.7"/>
<line x1="112.64" y1="329.3" x2="112.64" y2="328.1" stroke="#000" stroke-width="0.7"/>
<line x1="118.98" y1="329.3" x2="118.98" y2="328.1" stroke="#000" stroke-width="0.7"/>
<line x1="123.91" y1="329.3" x2="123.91" y2="328.1" stroke="#000" stroke-width="0.7"/>
<line x1="127.93" y1="329.3" x2="127.93" y2="328.1" stroke="#000" stroke-width="0.7"/>
<line x1="131.33" y1="329.3" x2="131.33" y2="328.1" stroke="#000" stroke-width="0.7"/>
<line x1="134.28" y1="329.3" x2="134.28" y2="328.1" stroke="#000" stroke-width="0.7"/>
<line x1="136.88" y1="329.3" x2="136.88" y2="328.1" stroke="#000" stroke-width="0.7"/>
<text x="89.2" y="340.2" font-size="9.5" font-weight="bold" text-anchor="middle" fill="#000" >10<tspan font-size="6" dy="-4">4</tspan></text>
<line x1="139.2" y1="329.3" x2="139.2" y2="327.1" stroke="#000" stroke-width="1"/>
<line x1="154.49" y1="329.3" x2="154.49" y2="328.1" stroke="#000" stroke-width="0.7"/>
<line x1="163.44" y1="329.3" x2="163.44" y2="328.1" stroke="#000" stroke-width="0.7"/>
<line x1="169.78" y1="329.3" x2="169.78" y2="328.1" stroke="#000" stroke-width="0.7"/>
<line x1="174.71" y1="329.3" x2="174.71" y2="328.1" stroke="#000" stroke-width="0.7"/>
<line x1="178.73" y1="329.3" x2="178.73" y2="328.1" stroke="#000" stroke-width="0.7"/>
<line x1="182.13" y1="329.3" x2="182.13" y2="328.1" stroke="#000" stroke-width="0.7"/>
<line x1="185.08" y1="329.3" x2="185.08" y2="328.1" stroke="#000" stroke-width="0.7"/>
<text x="140" y="340.2" font-size="9.5" font-weight="bold" text-anchor="middle" fill="#000" >10<tspan font-size="6" dy="-4">5</tspan></text>
<text x="105.7" y="350.6" font-size="11.2" font-weight="bold" text-anchor="middle" fill="#000" >Frequency (Hz)</text>
<text transform="translate(13.6,258.9) rotate(-90)" font-size="11.6" font-weight="bold" text-anchor="middle">Capacitance (μF/cm<tspan font-size="7" dy="-4.5">2</tspan><tspan dy="4.5">)</tspan></text>
<text x="37.7" y="201.6" font-size="10" font-weight="bold" text-anchor="start" fill="#000" >(c)</text>
<circle cx="114.2" cy="196.2" r="2.6" fill="#000"/>
<text x="124.9" y="198.9" font-size="7.45" font-weight="bold" text-anchor="start" fill="#000" >(dots) C-F data</text>
<line x1="106" y1="206.8" x2="121.5" y2="206.8" stroke="#707070" stroke-width="1.5"/>
<text x="124.9" y="209.7" font-size="7.45" font-weight="bold" text-anchor="start" fill="#000" >(lines) D<tspan font-size="5" dy="1.8">it</tspan><tspan dy="-1.8"> Model</tspan></text>
<text x="165" y="221.4" font-size="9.5" font-weight="bold" text-anchor="start" fill="#000" >0.5V</text>
<line x1="162.6" y1="219.3" x2="154" y2="221.8" stroke="#000" stroke-width="1"/>
<path d="M151.5,222.6 L155.5,219.6 L156.3,223.2 Z" fill="#000"/>
<text x="43.3" y="325.4" font-size="9.2" font-weight="bold" text-anchor="start" fill="#000" >-0.4V</text>
<line x1="50.7" y1="320.2" x2="59" y2="312" stroke="#000" stroke-width="1"/>
<path d="M61.5,309.6 L57.2,311.3 L59.7,313.9 Z" fill="#000"/>
<path d="M232.2,298.2 L238.5,296.5 L244.3,294.4 L249.9,291.3 L255.7,288.2 L261.3,284.3 L266.9,280.5 L272.1,277 L278,272.2 L283.8,268.1 L289,264.3 L294.8,259.2 L300.4,255.5 L306.2,251.5 L311.8,247.6 L317.1,244.5 L323.3,241.2 L329,238.8 L334.9,236.6 L340.6,234.5 L346.3,232.9 L352.2,230.9 L357.9,228.8 L363.5,227.2 L369,225.2" fill="none" stroke="#000" stroke-width="1.1"/>
<circle cx="232.2" cy="298.2" r="2.15" fill="#000"/>
<circle cx="238.5" cy="296.5" r="2.15" fill="#000"/>
<circle cx="244.3" cy="294.4" r="2.15" fill="#000"/>
<circle cx="249.9" cy="291.3" r="2.15" fill="#000"/>
<circle cx="255.7" cy="288.2" r="2.15" fill="#000"/>
<circle cx="261.3" cy="284.3" r="2.15" fill="#000"/>
<circle cx="266.9" cy="280.5" r="2.15" fill="#000"/>
<circle cx="272.1" cy="277" r="2.15" fill="#000"/>
<circle cx="278" cy="272.2" r="2.15" fill="#000"/>
<circle cx="283.8" cy="268.1" r="2.15" fill="#000"/>
<circle cx="289" cy="264.3" r="2.15" fill="#000"/>
<circle cx="294.8" cy="259.2" r="2.15" fill="#000"/>
<circle cx="300.4" cy="255.5" r="2.15" fill="#000"/>
<circle cx="306.2" cy="251.5" r="2.15" fill="#000"/>
<circle cx="311.8" cy="247.6" r="2.15" fill="#000"/>
<circle cx="317.1" cy="244.5" r="2.15" fill="#000"/>
<circle cx="323.3" cy="241.2" r="2.15" fill="#000"/>
<circle cx="329" cy="238.8" r="2.15" fill="#000"/>
<circle cx="334.9" cy="236.6" r="2.15" fill="#000"/>
<circle cx="340.6" cy="234.5" r="2.15" fill="#000"/>
<circle cx="346.3" cy="232.9" r="2.15" fill="#000"/>
<circle cx="352.2" cy="230.9" r="2.15" fill="#000"/>
<circle cx="357.9" cy="228.8" r="2.15" fill="#000"/>
<circle cx="363.5" cy="227.2" r="2.15" fill="#000"/>
<circle cx="369" cy="225.2" r="2.15" fill="#000"/>
<path d="M266.9,280.5 L272.1,277 L278,272.2 L283.8,268.1 L289,264.3 L294.8,259.2 L300.4,255.5 L306.5,251.6 L312.2,249.2 L317.6,247.1 L323.3,244.8 L329,243.4 L334.9,242.4 L340.6,241.4 L346.3,240.6 L352.2,239.9 L357.9,239.6 L363.5,239.6 L369,239.6" fill="none" stroke="#0000ff" stroke-width="1.1"/>
<rect x="264.95" y="278.55" width="3.9" height="3.9" fill="#0000ff"/>
<rect x="270.15" y="275.05" width="3.9" height="3.9" fill="#0000ff"/>
<rect x="276.05" y="270.25" width="3.9" height="3.9" fill="#0000ff"/>
<rect x="281.85" y="266.15" width="3.9" height="3.9" fill="#0000ff"/>
<rect x="287.05" y="262.35" width="3.9" height="3.9" fill="#0000ff"/>
<rect x="292.85" y="257.25" width="3.9" height="3.9" fill="#0000ff"/>
<rect x="298.45" y="253.55" width="3.9" height="3.9" fill="#0000ff"/>
<rect x="304.55" y="249.65" width="3.9" height="3.9" fill="#0000ff"/>
<rect x="310.25" y="247.25" width="3.9" height="3.9" fill="#0000ff"/>
<rect x="315.65" y="245.15" width="3.9" height="3.9" fill="#0000ff"/>
<rect x="321.35" y="242.85" width="3.9" height="3.9" fill="#0000ff"/>
<rect x="327.05" y="241.45" width="3.9" height="3.9" fill="#0000ff"/>
<rect x="332.95" y="240.45" width="3.9" height="3.9" fill="#0000ff"/>
<rect x="338.65" y="239.45" width="3.9" height="3.9" fill="#0000ff"/>
<rect x="344.35" y="238.65" width="3.9" height="3.9" fill="#0000ff"/>
<rect x="350.25" y="237.95" width="3.9" height="3.9" fill="#0000ff"/>
<rect x="355.95" y="237.65" width="3.9" height="3.9" fill="#0000ff"/>
<rect x="361.55" y="237.65" width="3.9" height="3.9" fill="#0000ff"/>
<rect x="367.05" y="237.65" width="3.9" height="3.9" fill="#0000ff"/>
<line x1="226.8" y1="187.1" x2="379.8" y2="187.1" stroke="#222" stroke-width="1.2"/>
<line x1="226.8" y1="325.1" x2="379.8" y2="325.1" stroke="#222" stroke-width="1.3"/>
<line x1="226.8" y1="187.1" x2="226.8" y2="325.1" stroke="#8a8a8a" stroke-width="1.9"/>
<line x1="379.8" y1="187.1" x2="379.8" y2="325.1" stroke="#777" stroke-width="1.5"/>
<line x1="226.8" y1="316.5" x2="229" y2="316.5" stroke="#000" stroke-width="1"/>
<line x1="379.8" y1="316.5" x2="377.6" y2="316.5" stroke="#000" stroke-width="1"/>
<line x1="226.8" y1="307.41" x2="228" y2="307.41" stroke="#000" stroke-width="0.7"/>
<line x1="379.8" y1="307.41" x2="378.6" y2="307.41" stroke="#000" stroke-width="0.7"/>
<line x1="226.8" y1="302.09" x2="228" y2="302.09" stroke="#000" stroke-width="0.7"/>
<line x1="379.8" y1="302.09" x2="378.6" y2="302.09" stroke="#000" stroke-width="0.7"/>
<line x1="226.8" y1="298.32" x2="228" y2="298.32" stroke="#000" stroke-width="0.7"/>
<line x1="379.8" y1="298.32" x2="378.6" y2="298.32" stroke="#000" stroke-width="0.7"/>
<line x1="226.8" y1="295.39" x2="228" y2="295.39" stroke="#000" stroke-width="0.7"/>
<line x1="379.8" y1="295.39" x2="378.6" y2="295.39" stroke="#000" stroke-width="0.7"/>
<line x1="226.8" y1="293" x2="228" y2="293" stroke="#000" stroke-width="0.7"/>
<line x1="379.8" y1="293" x2="378.6" y2="293" stroke="#000" stroke-width="0.7"/>
<line x1="226.8" y1="290.98" x2="228" y2="290.98" stroke="#000" stroke-width="0.7"/>
<line x1="379.8" y1="290.98" x2="378.6" y2="290.98" stroke="#000" stroke-width="0.7"/>
<line x1="226.8" y1="289.23" x2="228" y2="289.23" stroke="#000" stroke-width="0.7"/>
<line x1="379.8" y1="289.23" x2="378.6" y2="289.23" stroke="#000" stroke-width="0.7"/>
<line x1="226.8" y1="287.68" x2="228" y2="287.68" stroke="#000" stroke-width="0.7"/>
<line x1="379.8" y1="287.68" x2="378.6" y2="287.68" stroke="#000" stroke-width="0.7"/>
<text x="226" y="319.8" font-size="9.5" font-weight="bold" text-anchor="end" fill="#000" >10<tspan font-size="6" dy="-4">11</tspan></text>
<line x1="226.8" y1="286.3" x2="229" y2="286.3" stroke="#000" stroke-width="1"/>
<line x1="379.8" y1="286.3" x2="377.6" y2="286.3" stroke="#000" stroke-width="1"/>
<line x1="226.8" y1="277.21" x2="228" y2="277.21" stroke="#000" stroke-width="0.7"/>
<line x1="379.8" y1="277.21" x2="378.6" y2="277.21" stroke="#000" stroke-width="0.7"/>
<line x1="226.8" y1="271.89" x2="228" y2="271.89" stroke="#000" stroke-width="0.7"/>
<line x1="379.8" y1="271.89" x2="378.6" y2="271.89" stroke="#000" stroke-width="0.7"/>
<line x1="226.8" y1="268.12" x2="228" y2="268.12" stroke="#000" stroke-width="0.7"/>
<line x1="379.8" y1="268.12" x2="378.6" y2="268.12" stroke="#000" stroke-width="0.7"/>
<line x1="226.8" y1="265.19" x2="228" y2="265.19" stroke="#000" stroke-width="0.7"/>
<line x1="379.8" y1="265.19" x2="378.6" y2="265.19" stroke="#000" stroke-width="0.7"/>
<line x1="226.8" y1="262.8" x2="228" y2="262.8" stroke="#000" stroke-width="0.7"/>
<line x1="379.8" y1="262.8" x2="378.6" y2="262.8" stroke="#000" stroke-width="0.7"/>
<line x1="226.8" y1="260.78" x2="228" y2="260.78" stroke="#000" stroke-width="0.7"/>
<line x1="379.8" y1="260.78" x2="378.6" y2="260.78" stroke="#000" stroke-width="0.7"/>
<line x1="226.8" y1="259.03" x2="228" y2="259.03" stroke="#000" stroke-width="0.7"/>
<line x1="379.8" y1="259.03" x2="378.6" y2="259.03" stroke="#000" stroke-width="0.7"/>
<line x1="226.8" y1="257.48" x2="228" y2="257.48" stroke="#000" stroke-width="0.7"/>
<line x1="379.8" y1="257.48" x2="378.6" y2="257.48" stroke="#000" stroke-width="0.7"/>
<text x="226" y="289.6" font-size="9.5" font-weight="bold" text-anchor="end" fill="#000" >10<tspan font-size="6" dy="-4">12</tspan></text>
<line x1="226.8" y1="256.1" x2="229" y2="256.1" stroke="#000" stroke-width="1"/>
<line x1="379.8" y1="256.1" x2="377.6" y2="256.1" stroke="#000" stroke-width="1"/>
<line x1="226.8" y1="247.01" x2="228" y2="247.01" stroke="#000" stroke-width="0.7"/>
<line x1="379.8" y1="247.01" x2="378.6" y2="247.01" stroke="#000" stroke-width="0.7"/>
<line x1="226.8" y1="241.69" x2="228" y2="241.69" stroke="#000" stroke-width="0.7"/>
<line x1="379.8" y1="241.69" x2="378.6" y2="241.69" stroke="#000" stroke-width="0.7"/>
<line x1="226.8" y1="237.92" x2="228" y2="237.92" stroke="#000" stroke-width="0.7"/>
<line x1="379.8" y1="237.92" x2="378.6" y2="237.92" stroke="#000" stroke-width="0.7"/>
<line x1="226.8" y1="234.99" x2="228" y2="234.99" stroke="#000" stroke-width="0.7"/>
<line x1="379.8" y1="234.99" x2="378.6" y2="234.99" stroke="#000" stroke-width="0.7"/>
<line x1="226.8" y1="232.6" x2="228" y2="232.6" stroke="#000" stroke-width="0.7"/>
<line x1="379.8" y1="232.6" x2="378.6" y2="232.6" stroke="#000" stroke-width="0.7"/>
<line x1="226.8" y1="230.58" x2="228" y2="230.58" stroke="#000" stroke-width="0.7"/>
<line x1="379.8" y1="230.58" x2="378.6" y2="230.58" stroke="#000" stroke-width="0.7"/>
<line x1="226.8" y1="228.83" x2="228" y2="228.83" stroke="#000" stroke-width="0.7"/>
<line x1="379.8" y1="228.83" x2="378.6" y2="228.83" stroke="#000" stroke-width="0.7"/>
<line x1="226.8" y1="227.28" x2="228" y2="227.28" stroke="#000" stroke-width="0.7"/>
<line x1="379.8" y1="227.28" x2="378.6" y2="227.28" stroke="#000" stroke-width="0.7"/>
<text x="226" y="259.4" font-size="9.5" font-weight="bold" text-anchor="end" fill="#000" >10<tspan font-size="6" dy="-4">13</tspan></text>
<line x1="226.8" y1="225.9" x2="229" y2="225.9" stroke="#000" stroke-width="1"/>
<line x1="379.8" y1="225.9" x2="377.6" y2="225.9" stroke="#000" stroke-width="1"/>
<line x1="226.8" y1="216.81" x2="228" y2="216.81" stroke="#000" stroke-width="0.7"/>
<line x1="379.8" y1="216.81" x2="378.6" y2="216.81" stroke="#000" stroke-width="0.7"/>
<line x1="226.8" y1="211.49" x2="228" y2="211.49" stroke="#000" stroke-width="0.7"/>
<line x1="379.8" y1="211.49" x2="378.6" y2="211.49" stroke="#000" stroke-width="0.7"/>
<line x1="226.8" y1="207.72" x2="228" y2="207.72" stroke="#000" stroke-width="0.7"/>
<line x1="379.8" y1="207.72" x2="378.6" y2="207.72" stroke="#000" stroke-width="0.7"/>
<line x1="226.8" y1="204.79" x2="228" y2="204.79" stroke="#000" stroke-width="0.7"/>
<line x1="379.8" y1="204.79" x2="378.6" y2="204.79" stroke="#000" stroke-width="0.7"/>
<line x1="226.8" y1="202.4" x2="228" y2="202.4" stroke="#000" stroke-width="0.7"/>
<line x1="379.8" y1="202.4" x2="378.6" y2="202.4" stroke="#000" stroke-width="0.7"/>
<line x1="226.8" y1="200.38" x2="228" y2="200.38" stroke="#000" stroke-width="0.7"/>
<line x1="379.8" y1="200.38" x2="378.6" y2="200.38" stroke="#000" stroke-width="0.7"/>
<line x1="226.8" y1="198.63" x2="228" y2="198.63" stroke="#000" stroke-width="0.7"/>
<line x1="379.8" y1="198.63" x2="378.6" y2="198.63" stroke="#000" stroke-width="0.7"/>
<line x1="226.8" y1="197.08" x2="228" y2="197.08" stroke="#000" stroke-width="0.7"/>
<line x1="379.8" y1="197.08" x2="378.6" y2="197.08" stroke="#000" stroke-width="0.7"/>
<text x="226" y="229.2" font-size="9.5" font-weight="bold" text-anchor="end" fill="#000" >10<tspan font-size="6" dy="-4">14</tspan></text>
<line x1="226.8" y1="195.7" x2="229" y2="195.7" stroke="#000" stroke-width="1"/>
<line x1="379.8" y1="195.7" x2="377.6" y2="195.7" stroke="#000" stroke-width="1"/>
<text x="226" y="199" font-size="9.5" font-weight="bold" text-anchor="end" fill="#000" >10<tspan font-size="6" dy="-4">15</tspan></text>
<line x1="255" y1="325.1" x2="255" y2="322.90000000000003" stroke="#000" stroke-width="1"/>
<line x1="255" y1="187.1" x2="255" y2="189.29999999999998" stroke="#000" stroke-width="1"/>
<text x="255" y="335.6" font-size="9.5" font-weight="bold" text-anchor="middle" fill="#000" >-0.5</text>
<line x1="311.7" y1="325.1" x2="311.7" y2="322.90000000000003" stroke="#000" stroke-width="1"/>
<line x1="311.7" y1="187.1" x2="311.7" y2="189.29999999999998" stroke="#000" stroke-width="1"/>
<text x="311.7" y="335.6" font-size="9.5" font-weight="bold" text-anchor="middle" fill="#000" >0.0</text>
<line x1="368.4" y1="325.1" x2="368.4" y2="322.90000000000003" stroke="#000" stroke-width="1"/>
<line x1="368.4" y1="187.1" x2="368.4" y2="189.29999999999998" stroke="#000" stroke-width="1"/>
<text x="368.4" y="335.6" font-size="9.5" font-weight="bold" text-anchor="middle" fill="#000" >0.5</text>
<line x1="283.35" y1="325.1" x2="283.35" y2="323.8" stroke="#000" stroke-width="0.8"/>
<line x1="283.35" y1="187.1" x2="283.35" y2="188.4" stroke="#000" stroke-width="0.8"/>
<line x1="340.05" y1="325.1" x2="340.05" y2="323.8" stroke="#000" stroke-width="0.8"/>
<line x1="340.05" y1="187.1" x2="340.05" y2="188.4" stroke="#000" stroke-width="0.8"/>
<text x="233.2" y="202" font-size="10" font-weight="bold" text-anchor="start" fill="#000" >(d)</text>
<text x="280.8" y="348.2" font-size="13.6" font-weight="bold" text-anchor="start" fill="#000" >V<tspan font-size="7.8" dy="3.5">GS</tspan><tspan dy="-3.5">(V)</tspan></text>
<text transform="translate(206.8,256.2) rotate(-90)" font-size="12.3" font-weight="bold" text-anchor="middle">Trap Density (cm<tspan font-size="7.5" dy="-4.5">-2</tspan><tspan dy="4.5">eV</tspan><tspan font-size="7.5" dy="-4.5">-1</tspan><tspan dy="4.5">)</tspan></text>
<rect x="266.6" y="191.6" width="77" height="16.2" fill="#000"/>
<rect x="264.6" y="189.8" width="77.6" height="15.9" fill="#fff" stroke="#999" stroke-width="0.8"/>
<line x1="265.2" y1="193.6" x2="279.7" y2="193.6" stroke="#000" stroke-width="1.1"/>
<circle cx="272.5" cy="193.6" r="2.1" fill="#000"/>
<text x="281.9" y="196" font-size="6.4" font-weight="normal" text-anchor="start" fill="#000" >High-Low Frequency</text>
<line x1="265.2" y1="201.7" x2="279.7" y2="201.7" stroke="#0000ff" stroke-width="1.1"/>
<rect x="270.7" y="199.9" width="3.6" height="3.6" fill="#0000ff"/>
<text x="281.9" y="204" font-size="6.4" font-weight="normal" text-anchor="start" fill="#000" >Multi-Frequency</text>
<text x="288.3" y="216" font-size="6.4" font-weight="bold" text-anchor="start" fill="#000" >Interface Traps</text>
<text x="288.3" y="224.5" font-size="6.4" font-weight="bold" text-anchor="start" fill="#000" >+ Border Traps (Part)</text>
<text x="347.8" y="249.9" font-size="6.5" font-weight="bold" text-anchor="start" fill="#0000ff" >Interface</text>
<text x="347.8" y="257.1" font-size="6.8" font-weight="bold" text-anchor="start" fill="#0000ff" >Traps</text>
<g stroke-width="1.1" fill="none">
<path d="M256.7,228.2 V236 M248.4,236 H264.3 M248.4,236 V243.8 M264.3,236 V243.8 M248.4,247.4 V256.9 M264.3,247.4 V256.9 M248.4,256.9 H264.3 M256.4,256.9 V264" stroke="#000"/>
<path d="M256.7,216.5 V224.6" stroke="#999" stroke-width="1.1"/>
<path d="M252.2,224.6 H261.3 M252.2,228.2 H261.3" stroke="#808080" stroke-width="1.3"/>
<path d="M244.2,243.8 H252.6 M244.2,247.4 H252.6" stroke="#000" stroke-width="1.3"/>
<path d="M259.8,243.8 H268.8 M259.8,247.4 H268.8" stroke="#808080" stroke-width="1.3"/>
</g>
<text x="241.3" y="229.8" font-size="8" font-weight="bold" text-anchor="start" fill="#000" >C<tspan font-size="4.5" dy="2">ox</tspan></text>
<text x="233.8" y="247" font-size="8" font-weight="bold" text-anchor="start" fill="#000" >C<tspan font-size="4.5" dy="2">it</tspan></text>
<text x="270.8" y="247.3" font-size="8" font-weight="bold" text-anchor="start" fill="#000" >C<tspan font-size="4.5" dy="2">MoS2</tspan></text>
<rect x="319.3" y="261.0" width="51.80000000000001" height="46.69999999999999" fill="#fff" stroke="#999" stroke-width="0.9"/>
<line x1="319.3" y1="299.6" x2="321.1" y2="299.6" stroke="#777" stroke-width="0.6"/>
<line x1="371.1" y1="299.6" x2="369.3" y2="299.6" stroke="#777" stroke-width="0.6"/>
<line x1="319.3" y1="295.04" x2="320.3" y2="295.04" stroke="#777" stroke-width="0.6"/>
<line x1="371.1" y1="295.04" x2="370.1" y2="295.04" stroke="#777" stroke-width="0.6"/>
<line x1="319.3" y1="292.37" x2="320.3" y2="292.37" stroke="#777" stroke-width="0.6"/>
<line x1="371.1" y1="292.37" x2="370.1" y2="292.37" stroke="#777" stroke-width="0.6"/>
<line x1="319.3" y1="290.48" x2="320.3" y2="290.48" stroke="#777" stroke-width="0.6"/>
<line x1="371.1" y1="290.48" x2="370.1" y2="290.48" stroke="#777" stroke-width="0.6"/>
<line x1="319.3" y1="289.01" x2="320.3" y2="289.01" stroke="#777" stroke-width="0.6"/>
<line x1="371.1" y1="289.01" x2="370.1" y2="289.01" stroke="#777" stroke-width="0.6"/>
<line x1="319.3" y1="287.81" x2="320.3" y2="287.81" stroke="#777" stroke-width="0.6"/>
<line x1="371.1" y1="287.81" x2="370.1" y2="287.81" stroke="#777" stroke-width="0.6"/>
<line x1="319.3" y1="286.8" x2="320.3" y2="286.8" stroke="#777" stroke-width="0.6"/>
<line x1="371.1" y1="286.8" x2="370.1" y2="286.8" stroke="#777" stroke-width="0.6"/>
<line x1="319.3" y1="285.92" x2="320.3" y2="285.92" stroke="#777" stroke-width="0.6"/>
<line x1="371.1" y1="285.92" x2="370.1" y2="285.92" stroke="#777" stroke-width="0.6"/>
<line x1="319.3" y1="285.14" x2="320.3" y2="285.14" stroke="#777" stroke-width="0.6"/>
<line x1="371.1" y1="285.14" x2="370.1" y2="285.14" stroke="#777" stroke-width="0.6"/>
<line x1="319.3" y1="284.45" x2="321.1" y2="284.45" stroke="#777" stroke-width="0.6"/>
<line x1="371.1" y1="284.45" x2="369.3" y2="284.45" stroke="#777" stroke-width="0.6"/>
<line x1="319.3" y1="279.89" x2="320.3" y2="279.89" stroke="#777" stroke-width="0.6"/>
<line x1="371.1" y1="279.89" x2="370.1" y2="279.89" stroke="#777" stroke-width="0.6"/>
<line x1="319.3" y1="277.22" x2="320.3" y2="277.22" stroke="#777" stroke-width="0.6"/>
<line x1="371.1" y1="277.22" x2="370.1" y2="277.22" stroke="#777" stroke-width="0.6"/>
<line x1="319.3" y1="275.33" x2="320.3" y2="275.33" stroke="#777" stroke-width="0.6"/>
<line x1="371.1" y1="275.33" x2="370.1" y2="275.33" stroke="#777" stroke-width="0.6"/>
<line x1="319.3" y1="273.86" x2="320.3" y2="273.86" stroke="#777" stroke-width="0.6"/>
<line x1="371.1" y1="273.86" x2="370.1" y2="273.86" stroke="#777" stroke-width="0.6"/>
<line x1="319.3" y1="272.66" x2="320.3" y2="272.66" stroke="#777" stroke-width="0.6"/>
<line x1="371.1" y1="272.66" x2="370.1" y2="272.66" stroke="#777" stroke-width="0.6"/>
<line x1="319.3" y1="271.65" x2="320.3" y2="271.65" stroke="#777" stroke-width="0.6"/>
<line x1="371.1" y1="271.65" x2="370.1" y2="271.65" stroke="#777" stroke-width="0.6"/>
<line x1="319.3" y1="270.77" x2="320.3" y2="270.77" stroke="#777" stroke-width="0.6"/>
<line x1="371.1" y1="270.77" x2="370.1" y2="270.77" stroke="#777" stroke-width="0.6"/>
<line x1="319.3" y1="269.99" x2="320.3" y2="269.99" stroke="#777" stroke-width="0.6"/>
<line x1="371.1" y1="269.99" x2="370.1" y2="269.99" stroke="#777" stroke-width="0.6"/>
<line x1="319.3" y1="269.3" x2="321.1" y2="269.3" stroke="#777" stroke-width="0.6"/>
<line x1="371.1" y1="269.3" x2="369.3" y2="269.3" stroke="#777" stroke-width="0.6"/>
<line x1="319.3" y1="264.74" x2="320.3" y2="264.74" stroke="#777" stroke-width="0.6"/>
<line x1="371.1" y1="264.74" x2="370.1" y2="264.74" stroke="#777" stroke-width="0.6"/>
<line x1="319.3" y1="262.07" x2="320.3" y2="262.07" stroke="#777" stroke-width="0.6"/>
<line x1="371.1" y1="262.07" x2="370.1" y2="262.07" stroke="#777" stroke-width="0.6"/>
<text x="318.2" y="271.6" font-size="6.3" font-weight="bold" text-anchor="end" fill="#000" >100</text>
<text x="318.2" y="286.75" font-size="6.3" font-weight="bold" text-anchor="end" fill="#000" >10</text>
<text x="318.2" y="301.9" font-size="6.3" font-weight="bold" text-anchor="end" fill="#000" >1</text>
<line x1="322.8" y1="307.7" x2="322.8" y2="305.9" stroke="#777" stroke-width="0.6"/>
<line x1="322.8" y1="261.0" x2="322.8" y2="262.8" stroke="#777" stroke-width="0.6"/>
<text x="322.8" y="313.3" font-size="6" font-weight="bold" text-anchor="middle" fill="#000" >-0.5</text>
<line x1="344.2" y1="307.7" x2="344.2" y2="305.9" stroke="#777" stroke-width="0.6"/>
<line x1="344.2" y1="261.0" x2="344.2" y2="262.8" stroke="#777" stroke-width="0.6"/>
<text x="344.2" y="313.3" font-size="6" font-weight="bold" text-anchor="middle" fill="#000" >0.0</text>
<line x1="365.6" y1="307.7" x2="365.6" y2="305.9" stroke="#777" stroke-width="0.6"/>
<line x1="365.6" y1="261.0" x2="365.6" y2="262.8" stroke="#777" stroke-width="0.6"/>
<text x="365.6" y="313.3" font-size="6" font-weight="bold" text-anchor="middle" fill="#000" >0.5</text>
<line x1="333.5" y1="307.7" x2="333.5" y2="306.7" stroke="#777" stroke-width="0.6"/>
<line x1="354.9" y1="307.7" x2="354.9" y2="306.7" stroke="#777" stroke-width="0.6"/>
<path d="M325.8,271.8 L327.89,272.33 L329.99,272.94 L332.08,273.85 L334.18,275.36 L336.27,277.33 L338.37,279.6 L340.46,282.03 L342.56,284.15 L344.65,285.97 L346.75,287.63 L348.84,289.15 L350.94,290.51 L353.03,291.72 L355.13,292.78 L357.22,293.54 L359.32,294.15 L361.41,294.6 L363.51,294.9 L365.6,295.06" fill="none" stroke="#22ee22" stroke-width="1.1"/>
<path d="M325.8,269.6 L327.7,273.2 L323.9,273.2 Z" fill="#22ee22"/>
<path d="M327.89,270.13 L329.79,273.73 L325.99,273.73 Z" fill="#22ee22"/>
<path d="M329.99,270.74 L331.89,274.34 L328.09,274.34 Z" fill="#22ee22"/>
<path d="M332.08,271.65 L333.98,275.25 L330.18,275.25 Z" fill="#22ee22"/>
<path d="M334.18,273.16 L336.08,276.76 L332.28,276.76 Z" fill="#22ee22"/>
<path d="M336.27,275.13 L338.17,278.73 L334.37,278.73 Z" fill="#22ee22"/>
<path d="M338.37,277.4 L340.27,281 L336.47,281 Z" fill="#22ee22"/>
<path d="M340.46,279.83 L342.36,283.43 L338.56,283.43 Z" fill="#22ee22"/>
<path d="M342.56,281.95 L344.46,285.55 L340.66,285.55 Z" fill="#22ee22"/>
<path d="M344.65,283.77 L346.55,287.37 L342.75,287.37 Z" fill="#22ee22"/>
<path d="M346.75,285.43 L348.65,289.03 L344.85,289.03 Z" fill="#22ee22"/>
<path d="M348.84,286.95 L350.74,290.55 L346.94,290.55 Z" fill="#22ee22"/>
<path d="M350.94,288.31 L352.84,291.91 L349.04,291.91 Z" fill="#22ee22"/>
<path d="M353.03,289.52 L354.93,293.12 L351.13,293.12 Z" fill="#22ee22"/>
<path d="M355.13,290.58 L357.03,294.18 L353.23,294.18 Z" fill="#22ee22"/>
<path d="M357.22,291.34 L359.12,294.94 L355.32,294.94 Z" fill="#22ee22"/>
<path d="M359.32,291.95 L361.22,295.55 L357.42,295.55 Z" fill="#22ee22"/>
<path d="M361.41,292.4 L363.31,296 L359.51,296 Z" fill="#22ee22"/>
<path d="M363.51,292.7 L365.41,296.3 L361.61,296.3 Z" fill="#22ee22"/>
<path d="M365.6,292.86 L367.5,296.45 L363.7,296.45 Z" fill="#22ee22"/>
<text x="336.8" y="321" font-size="7.5" font-weight="bold" text-anchor="start" fill="#000" >V<tspan font-size="4.5" dy="1.8">G</tspan><tspan dy="-1.8"> (V)</tspan></text>
<text transform="translate(309.2,288) rotate(-90)" font-size="7.5" font-weight="bold" text-anchor="middle">τ<tspan font-size="4.5" dy="1.8">it</tspan><tspan dy="-1.8"> (μs)</tspan></text>
</svg>
</body></html>
